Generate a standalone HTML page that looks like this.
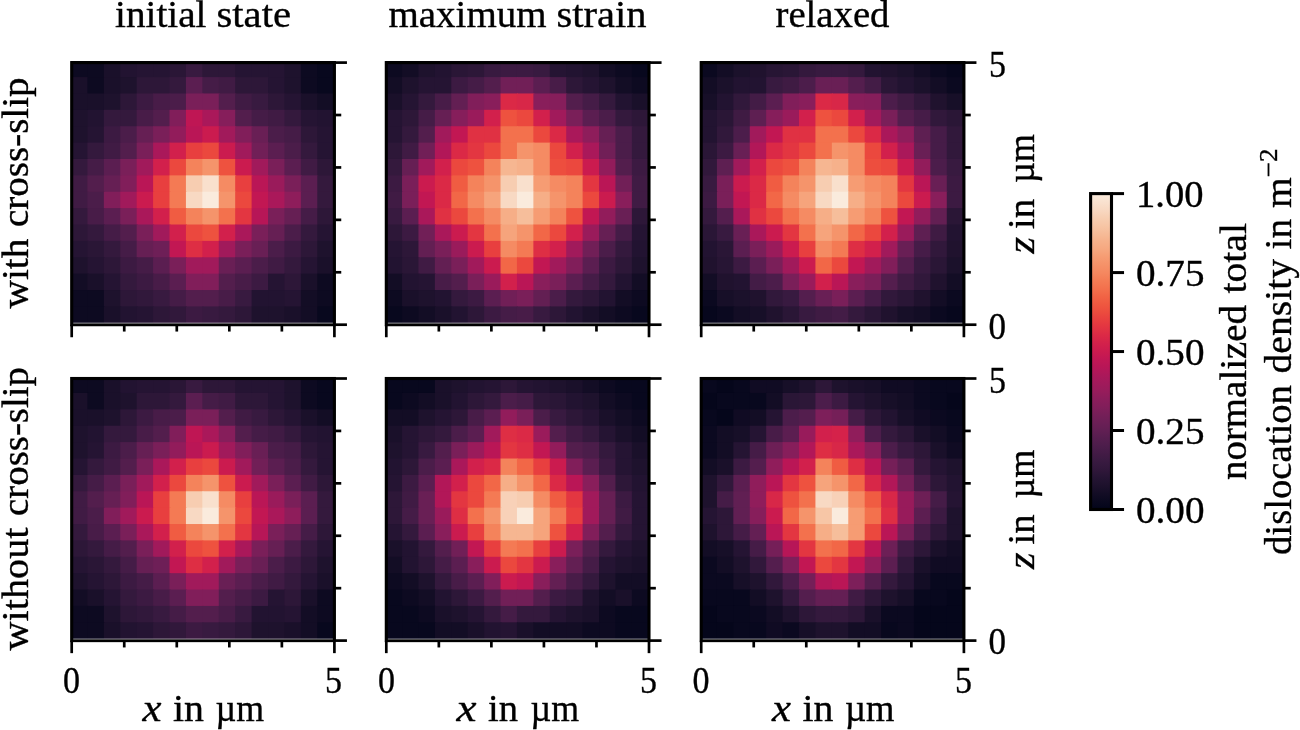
<!DOCTYPE html>
<html lang="en"><head><meta charset="utf-8"><title>Dislocation density maps</title>
<style>html,body{margin:0;padding:0;background:#fff}body{width:1300px;height:730px;overflow:hidden}svg{display:block}text{font-family:"Liberation Serif", "DejaVu Serif", serif;font-size:37.5px;fill:#000;stroke:#000;stroke-width:0.35px}.i{font-style:italic}</style></head><body>
<svg width="1300" height="730" viewBox="0 0 1300 730">
<rect width="1300" height="730" fill="#fff"/>
<clipPath id="cp0"><rect x="70.15" y="61.05" width="265.80" height="265.20"/></clipPath>
<g clip-path="url(#cp0)">
<rect x="71.00" y="60.70" width="17.42" height="17.38" fill="#0d0a21"/>
<rect x="87.42" y="60.70" width="17.42" height="17.38" fill="#0d0a21"/>
<rect x="103.84" y="60.70" width="17.42" height="17.38" fill="#1a102a"/>
<rect x="120.26" y="60.70" width="17.42" height="17.38" fill="#221331"/>
<rect x="136.68" y="60.70" width="17.42" height="17.38" fill="#251433"/>
<rect x="153.09" y="60.70" width="17.42" height="17.38" fill="#251433"/>
<rect x="169.51" y="60.70" width="17.42" height="17.38" fill="#2a1636"/>
<rect x="185.93" y="60.70" width="17.42" height="17.38" fill="#381a40"/>
<rect x="202.35" y="60.70" width="17.42" height="17.38" fill="#2d1738"/>
<rect x="218.77" y="60.70" width="17.42" height="17.38" fill="#2d1738"/>
<rect x="235.19" y="60.70" width="17.42" height="17.38" fill="#251433"/>
<rect x="251.61" y="60.70" width="17.42" height="17.38" fill="#251433"/>
<rect x="268.02" y="60.70" width="17.42" height="17.38" fill="#251433"/>
<rect x="284.44" y="60.70" width="17.42" height="17.38" fill="#1e122d"/>
<rect x="300.86" y="60.70" width="17.42" height="17.38" fill="#0d0a21"/>
<rect x="317.28" y="60.70" width="17.42" height="17.38" fill="#08081e"/>
<rect x="71.00" y="77.08" width="17.42" height="17.38" fill="#1a102a"/>
<rect x="87.42" y="77.08" width="17.42" height="17.38" fill="#0d0a21"/>
<rect x="103.84" y="77.08" width="17.42" height="17.38" fill="#1a102a"/>
<rect x="120.26" y="77.08" width="17.42" height="17.38" fill="#1e122d"/>
<rect x="136.68" y="77.08" width="17.42" height="17.38" fill="#2d1738"/>
<rect x="153.09" y="77.08" width="17.42" height="17.38" fill="#2d1738"/>
<rect x="169.51" y="77.08" width="17.42" height="17.38" fill="#34193d"/>
<rect x="185.93" y="77.08" width="17.42" height="17.38" fill="#5b1e51"/>
<rect x="202.35" y="77.08" width="17.42" height="17.38" fill="#451c47"/>
<rect x="218.77" y="77.08" width="17.42" height="17.38" fill="#401b44"/>
<rect x="235.19" y="77.08" width="17.42" height="17.38" fill="#2d1738"/>
<rect x="251.61" y="77.08" width="17.42" height="17.38" fill="#2d1738"/>
<rect x="268.02" y="77.08" width="17.42" height="17.38" fill="#251433"/>
<rect x="284.44" y="77.08" width="17.42" height="17.38" fill="#1e122d"/>
<rect x="300.86" y="77.08" width="17.42" height="17.38" fill="#0d0a21"/>
<rect x="317.28" y="77.08" width="17.42" height="17.38" fill="#08081e"/>
<rect x="71.00" y="93.46" width="17.42" height="17.38" fill="#1a102a"/>
<rect x="87.42" y="93.46" width="17.42" height="17.38" fill="#1a102a"/>
<rect x="103.84" y="93.46" width="17.42" height="17.38" fill="#1e122d"/>
<rect x="120.26" y="93.46" width="17.42" height="17.38" fill="#2d1738"/>
<rect x="136.68" y="93.46" width="17.42" height="17.38" fill="#3c1a42"/>
<rect x="153.09" y="93.46" width="17.42" height="17.38" fill="#481c48"/>
<rect x="169.51" y="93.46" width="17.42" height="17.38" fill="#4b1d4a"/>
<rect x="185.93" y="93.46" width="17.42" height="17.38" fill="#7a1f59"/>
<rect x="202.35" y="93.46" width="17.42" height="17.38" fill="#7a1f59"/>
<rect x="218.77" y="93.46" width="17.42" height="17.38" fill="#531e4d"/>
<rect x="235.19" y="93.46" width="17.42" height="17.38" fill="#401b44"/>
<rect x="251.61" y="93.46" width="17.42" height="17.38" fill="#381a40"/>
<rect x="268.02" y="93.46" width="17.42" height="17.38" fill="#2d1738"/>
<rect x="284.44" y="93.46" width="17.42" height="17.38" fill="#251433"/>
<rect x="300.86" y="93.46" width="17.42" height="17.38" fill="#1a102a"/>
<rect x="317.28" y="93.46" width="17.42" height="17.38" fill="#130d25"/>
<rect x="71.00" y="109.84" width="17.42" height="17.38" fill="#1e122d"/>
<rect x="87.42" y="109.84" width="17.42" height="17.38" fill="#221331"/>
<rect x="103.84" y="109.84" width="17.42" height="17.38" fill="#34193d"/>
<rect x="120.26" y="109.84" width="17.42" height="17.38" fill="#34193d"/>
<rect x="136.68" y="109.84" width="17.42" height="17.38" fill="#481c48"/>
<rect x="153.09" y="109.84" width="17.42" height="17.38" fill="#531e4d"/>
<rect x="169.51" y="109.84" width="17.42" height="17.38" fill="#811e5a"/>
<rect x="185.93" y="109.84" width="17.42" height="17.38" fill="#bf1654"/>
<rect x="202.35" y="109.84" width="17.42" height="17.38" fill="#aa185a"/>
<rect x="218.77" y="109.84" width="17.42" height="17.38" fill="#861e5b"/>
<rect x="235.19" y="109.84" width="17.42" height="17.38" fill="#531e4d"/>
<rect x="251.61" y="109.84" width="17.42" height="17.38" fill="#451c47"/>
<rect x="268.02" y="109.84" width="17.42" height="17.38" fill="#401b44"/>
<rect x="284.44" y="109.84" width="17.42" height="17.38" fill="#34193d"/>
<rect x="300.86" y="109.84" width="17.42" height="17.38" fill="#251433"/>
<rect x="317.28" y="109.84" width="17.42" height="17.38" fill="#221331"/>
<rect x="71.00" y="126.23" width="17.42" height="17.38" fill="#1e122d"/>
<rect x="87.42" y="126.23" width="17.42" height="17.38" fill="#251433"/>
<rect x="103.84" y="126.23" width="17.42" height="17.38" fill="#3c1a42"/>
<rect x="120.26" y="126.23" width="17.42" height="17.38" fill="#4b1d4a"/>
<rect x="136.68" y="126.23" width="17.42" height="17.38" fill="#661f54"/>
<rect x="153.09" y="126.23" width="17.42" height="17.38" fill="#7a1f59"/>
<rect x="169.51" y="126.23" width="17.42" height="17.38" fill="#921c5b"/>
<rect x="185.93" y="126.23" width="17.42" height="17.38" fill="#ba1656"/>
<rect x="202.35" y="126.23" width="17.42" height="17.38" fill="#cb1b4f"/>
<rect x="218.77" y="126.23" width="17.42" height="17.38" fill="#a11a5b"/>
<rect x="235.19" y="126.23" width="17.42" height="17.38" fill="#811e5a"/>
<rect x="251.61" y="126.23" width="17.42" height="17.38" fill="#691f55"/>
<rect x="268.02" y="126.23" width="17.42" height="17.38" fill="#4b1d4a"/>
<rect x="284.44" y="126.23" width="17.42" height="17.38" fill="#451c47"/>
<rect x="300.86" y="126.23" width="17.42" height="17.38" fill="#2d1738"/>
<rect x="317.28" y="126.23" width="17.42" height="17.38" fill="#251433"/>
<rect x="71.00" y="142.61" width="17.42" height="17.38" fill="#251433"/>
<rect x="87.42" y="142.61" width="17.42" height="17.38" fill="#34193d"/>
<rect x="103.84" y="142.61" width="17.42" height="17.38" fill="#401b44"/>
<rect x="120.26" y="142.61" width="17.42" height="17.38" fill="#531e4d"/>
<rect x="136.68" y="142.61" width="17.42" height="17.38" fill="#7a1f59"/>
<rect x="153.09" y="142.61" width="17.42" height="17.38" fill="#aa185a"/>
<rect x="169.51" y="142.61" width="17.42" height="17.38" fill="#d2204c"/>
<rect x="185.93" y="142.61" width="17.42" height="17.38" fill="#e83f3f"/>
<rect x="202.35" y="142.61" width="17.42" height="17.38" fill="#eb483e"/>
<rect x="218.77" y="142.61" width="17.42" height="17.38" fill="#cb1b4f"/>
<rect x="235.19" y="142.61" width="17.42" height="17.38" fill="#a11a5b"/>
<rect x="251.61" y="142.61" width="17.42" height="17.38" fill="#711f57"/>
<rect x="268.02" y="142.61" width="17.42" height="17.38" fill="#5b1e51"/>
<rect x="284.44" y="142.61" width="17.42" height="17.38" fill="#4b1d4a"/>
<rect x="300.86" y="142.61" width="17.42" height="17.38" fill="#34193d"/>
<rect x="317.28" y="142.61" width="17.42" height="17.38" fill="#251433"/>
<rect x="71.00" y="158.99" width="17.42" height="17.38" fill="#34193d"/>
<rect x="87.42" y="158.99" width="17.42" height="17.38" fill="#451c47"/>
<rect x="103.84" y="158.99" width="17.42" height="17.38" fill="#5b1e51"/>
<rect x="120.26" y="158.99" width="17.42" height="17.38" fill="#7a1f59"/>
<rect x="136.68" y="158.99" width="17.42" height="17.38" fill="#a11a5b"/>
<rect x="153.09" y="158.99" width="17.42" height="17.38" fill="#d2204c"/>
<rect x="169.51" y="158.99" width="17.42" height="17.38" fill="#eb483e"/>
<rect x="185.93" y="158.99" width="17.42" height="17.38" fill="#f4835b"/>
<rect x="202.35" y="158.99" width="17.42" height="17.38" fill="#f5946b"/>
<rect x="218.77" y="158.99" width="17.42" height="17.38" fill="#ee523f"/>
<rect x="235.19" y="158.99" width="17.42" height="17.38" fill="#cb1b4f"/>
<rect x="251.61" y="158.99" width="17.42" height="17.38" fill="#a11a5b"/>
<rect x="268.02" y="158.99" width="17.42" height="17.38" fill="#7a1f59"/>
<rect x="284.44" y="158.99" width="17.42" height="17.38" fill="#5b1e51"/>
<rect x="300.86" y="158.99" width="17.42" height="17.38" fill="#401b44"/>
<rect x="317.28" y="158.99" width="17.42" height="17.38" fill="#2d1738"/>
<rect x="71.00" y="175.37" width="17.42" height="17.38" fill="#401b44"/>
<rect x="87.42" y="175.37" width="17.42" height="17.38" fill="#531e4d"/>
<rect x="103.84" y="175.37" width="17.42" height="17.38" fill="#661f54"/>
<rect x="120.26" y="175.37" width="17.42" height="17.38" fill="#811e5a"/>
<rect x="136.68" y="175.37" width="17.42" height="17.38" fill="#ba1656"/>
<rect x="153.09" y="175.37" width="17.42" height="17.38" fill="#e83f3f"/>
<rect x="169.51" y="175.37" width="17.42" height="17.38" fill="#f47a54"/>
<rect x="185.93" y="175.37" width="17.42" height="17.38" fill="#f7cdb1"/>
<rect x="202.35" y="175.37" width="17.42" height="17.38" fill="#f9e0cd"/>
<rect x="218.77" y="175.37" width="17.42" height="17.38" fill="#f58b63"/>
<rect x="235.19" y="175.37" width="17.42" height="17.38" fill="#e83f3f"/>
<rect x="251.61" y="175.37" width="17.42" height="17.38" fill="#ba1656"/>
<rect x="268.02" y="175.37" width="17.42" height="17.38" fill="#9a1b5b"/>
<rect x="284.44" y="175.37" width="17.42" height="17.38" fill="#7a1f59"/>
<rect x="300.86" y="175.37" width="17.42" height="17.38" fill="#5b1e51"/>
<rect x="317.28" y="175.37" width="17.42" height="17.38" fill="#34193d"/>
<rect x="71.00" y="191.75" width="17.42" height="17.38" fill="#401b44"/>
<rect x="87.42" y="191.75" width="17.42" height="17.38" fill="#4b1d4a"/>
<rect x="103.84" y="191.75" width="17.42" height="17.38" fill="#811e5a"/>
<rect x="120.26" y="191.75" width="17.42" height="17.38" fill="#a11a5b"/>
<rect x="136.68" y="191.75" width="17.42" height="17.38" fill="#cb1b4f"/>
<rect x="153.09" y="191.75" width="17.42" height="17.38" fill="#e83f3f"/>
<rect x="169.51" y="191.75" width="17.42" height="17.38" fill="#f47a54"/>
<rect x="185.93" y="191.75" width="17.42" height="17.38" fill="#f8d9c3"/>
<rect x="202.35" y="191.75" width="17.42" height="17.38" fill="#faebdd"/>
<rect x="218.77" y="191.75" width="17.42" height="17.38" fill="#f5946b"/>
<rect x="235.19" y="191.75" width="17.42" height="17.38" fill="#eb483e"/>
<rect x="251.61" y="191.75" width="17.42" height="17.38" fill="#c21753"/>
<rect x="268.02" y="191.75" width="17.42" height="17.38" fill="#aa185a"/>
<rect x="284.44" y="191.75" width="17.42" height="17.38" fill="#8e1d5b"/>
<rect x="300.86" y="191.75" width="17.42" height="17.38" fill="#5b1e51"/>
<rect x="317.28" y="191.75" width="17.42" height="17.38" fill="#34193d"/>
<rect x="71.00" y="208.13" width="17.42" height="17.38" fill="#34193d"/>
<rect x="87.42" y="208.13" width="17.42" height="17.38" fill="#481c48"/>
<rect x="103.84" y="208.13" width="17.42" height="17.38" fill="#5b1e51"/>
<rect x="120.26" y="208.13" width="17.42" height="17.38" fill="#7a1f59"/>
<rect x="136.68" y="208.13" width="17.42" height="17.38" fill="#aa185a"/>
<rect x="153.09" y="208.13" width="17.42" height="17.38" fill="#d2204c"/>
<rect x="169.51" y="208.13" width="17.42" height="17.38" fill="#f05c42"/>
<rect x="185.93" y="208.13" width="17.42" height="17.38" fill="#f4835b"/>
<rect x="202.35" y="208.13" width="17.42" height="17.38" fill="#f5946b"/>
<rect x="218.77" y="208.13" width="17.42" height="17.38" fill="#f3714d"/>
<rect x="235.19" y="208.13" width="17.42" height="17.38" fill="#e33641"/>
<rect x="251.61" y="208.13" width="17.42" height="17.38" fill="#b71657"/>
<rect x="268.02" y="208.13" width="17.42" height="17.38" fill="#7a1f59"/>
<rect x="284.44" y="208.13" width="17.42" height="17.38" fill="#661f54"/>
<rect x="300.86" y="208.13" width="17.42" height="17.38" fill="#451c47"/>
<rect x="317.28" y="208.13" width="17.42" height="17.38" fill="#2d1738"/>
<rect x="71.00" y="224.51" width="17.42" height="17.38" fill="#2d1738"/>
<rect x="87.42" y="224.51" width="17.42" height="17.38" fill="#34193d"/>
<rect x="103.84" y="224.51" width="17.42" height="17.38" fill="#451c47"/>
<rect x="120.26" y="224.51" width="17.42" height="17.38" fill="#531e4d"/>
<rect x="136.68" y="224.51" width="17.42" height="17.38" fill="#7a1f59"/>
<rect x="153.09" y="224.51" width="17.42" height="17.38" fill="#a11a5b"/>
<rect x="169.51" y="224.51" width="17.42" height="17.38" fill="#d2204c"/>
<rect x="185.93" y="224.51" width="17.42" height="17.38" fill="#eb483e"/>
<rect x="202.35" y="224.51" width="17.42" height="17.38" fill="#ee523f"/>
<rect x="218.77" y="224.51" width="17.42" height="17.38" fill="#d2204c"/>
<rect x="235.19" y="224.51" width="17.42" height="17.38" fill="#aa185a"/>
<rect x="251.61" y="224.51" width="17.42" height="17.38" fill="#7a1f59"/>
<rect x="268.02" y="224.51" width="17.42" height="17.38" fill="#661f54"/>
<rect x="284.44" y="224.51" width="17.42" height="17.38" fill="#4b1d4a"/>
<rect x="300.86" y="224.51" width="17.42" height="17.38" fill="#34193d"/>
<rect x="317.28" y="224.51" width="17.42" height="17.38" fill="#251433"/>
<rect x="71.00" y="240.89" width="17.42" height="17.38" fill="#251433"/>
<rect x="87.42" y="240.89" width="17.42" height="17.38" fill="#2a1636"/>
<rect x="103.84" y="240.89" width="17.42" height="17.38" fill="#34193d"/>
<rect x="120.26" y="240.89" width="17.42" height="17.38" fill="#451c47"/>
<rect x="136.68" y="240.89" width="17.42" height="17.38" fill="#661f54"/>
<rect x="153.09" y="240.89" width="17.42" height="17.38" fill="#6e1f57"/>
<rect x="169.51" y="240.89" width="17.42" height="17.38" fill="#c21753"/>
<rect x="185.93" y="240.89" width="17.42" height="17.38" fill="#de2e44"/>
<rect x="202.35" y="240.89" width="17.42" height="17.38" fill="#d2204c"/>
<rect x="218.77" y="240.89" width="17.42" height="17.38" fill="#a11a5b"/>
<rect x="235.19" y="240.89" width="17.42" height="17.38" fill="#7a1f59"/>
<rect x="251.61" y="240.89" width="17.42" height="17.38" fill="#691f55"/>
<rect x="268.02" y="240.89" width="17.42" height="17.38" fill="#4b1d4a"/>
<rect x="284.44" y="240.89" width="17.42" height="17.38" fill="#3c1a42"/>
<rect x="300.86" y="240.89" width="17.42" height="17.38" fill="#2d1738"/>
<rect x="317.28" y="240.89" width="17.42" height="17.38" fill="#1e122d"/>
<rect x="71.00" y="257.28" width="17.42" height="17.38" fill="#1e122d"/>
<rect x="87.42" y="257.28" width="17.42" height="17.38" fill="#251433"/>
<rect x="103.84" y="257.28" width="17.42" height="17.38" fill="#2d1738"/>
<rect x="120.26" y="257.28" width="17.42" height="17.38" fill="#3c1a42"/>
<rect x="136.68" y="257.28" width="17.42" height="17.38" fill="#451c47"/>
<rect x="153.09" y="257.28" width="17.42" height="17.38" fill="#5b1e51"/>
<rect x="169.51" y="257.28" width="17.42" height="17.38" fill="#7a1f59"/>
<rect x="185.93" y="257.28" width="17.42" height="17.38" fill="#a11a5b"/>
<rect x="202.35" y="257.28" width="17.42" height="17.38" fill="#a11a5b"/>
<rect x="218.77" y="257.28" width="17.42" height="17.38" fill="#691f55"/>
<rect x="235.19" y="257.28" width="17.42" height="17.38" fill="#5b1e51"/>
<rect x="251.61" y="257.28" width="17.42" height="17.38" fill="#4b1d4a"/>
<rect x="268.02" y="257.28" width="17.42" height="17.38" fill="#401b44"/>
<rect x="284.44" y="257.28" width="17.42" height="17.38" fill="#34193d"/>
<rect x="300.86" y="257.28" width="17.42" height="17.38" fill="#251433"/>
<rect x="317.28" y="257.28" width="17.42" height="17.38" fill="#1a102a"/>
<rect x="71.00" y="273.66" width="17.42" height="17.38" fill="#130d25"/>
<rect x="87.42" y="273.66" width="17.42" height="17.38" fill="#1a102a"/>
<rect x="103.84" y="273.66" width="17.42" height="17.38" fill="#251433"/>
<rect x="120.26" y="273.66" width="17.42" height="17.38" fill="#34193d"/>
<rect x="136.68" y="273.66" width="17.42" height="17.38" fill="#3c1a42"/>
<rect x="153.09" y="273.66" width="17.42" height="17.38" fill="#481c48"/>
<rect x="169.51" y="273.66" width="17.42" height="17.38" fill="#5b1e51"/>
<rect x="185.93" y="273.66" width="17.42" height="17.38" fill="#811e5a"/>
<rect x="202.35" y="273.66" width="17.42" height="17.38" fill="#811e5a"/>
<rect x="218.77" y="273.66" width="17.42" height="17.38" fill="#531e4d"/>
<rect x="235.19" y="273.66" width="17.42" height="17.38" fill="#481c48"/>
<rect x="251.61" y="273.66" width="17.42" height="17.38" fill="#3c1a42"/>
<rect x="268.02" y="273.66" width="17.42" height="17.38" fill="#251433"/>
<rect x="284.44" y="273.66" width="17.42" height="17.38" fill="#2d1738"/>
<rect x="300.86" y="273.66" width="17.42" height="17.38" fill="#1a102a"/>
<rect x="317.28" y="273.66" width="17.42" height="17.38" fill="#0d0a21"/>
<rect x="71.00" y="290.04" width="17.42" height="17.38" fill="#0d0a21"/>
<rect x="87.42" y="290.04" width="17.42" height="17.38" fill="#0d0a21"/>
<rect x="103.84" y="290.04" width="17.42" height="17.38" fill="#1e122d"/>
<rect x="120.26" y="290.04" width="17.42" height="17.38" fill="#2d1738"/>
<rect x="136.68" y="290.04" width="17.42" height="17.38" fill="#31183b"/>
<rect x="153.09" y="290.04" width="17.42" height="17.38" fill="#381a40"/>
<rect x="169.51" y="290.04" width="17.42" height="17.38" fill="#451c47"/>
<rect x="185.93" y="290.04" width="17.42" height="17.38" fill="#531e4d"/>
<rect x="202.35" y="290.04" width="17.42" height="17.38" fill="#531e4d"/>
<rect x="218.77" y="290.04" width="17.42" height="17.38" fill="#481c48"/>
<rect x="235.19" y="290.04" width="17.42" height="17.38" fill="#381a40"/>
<rect x="251.61" y="290.04" width="17.42" height="17.38" fill="#221331"/>
<rect x="268.02" y="290.04" width="17.42" height="17.38" fill="#221331"/>
<rect x="284.44" y="290.04" width="17.42" height="17.38" fill="#251433"/>
<rect x="300.86" y="290.04" width="17.42" height="17.38" fill="#130d25"/>
<rect x="317.28" y="290.04" width="17.42" height="17.38" fill="#0d0a21"/>
<rect x="71.00" y="306.42" width="17.42" height="17.38" fill="#0d0a21"/>
<rect x="87.42" y="306.42" width="17.42" height="17.38" fill="#0d0a21"/>
<rect x="103.84" y="306.42" width="17.42" height="17.38" fill="#1a102a"/>
<rect x="120.26" y="306.42" width="17.42" height="17.38" fill="#221331"/>
<rect x="136.68" y="306.42" width="17.42" height="17.38" fill="#251433"/>
<rect x="153.09" y="306.42" width="17.42" height="17.38" fill="#2d1738"/>
<rect x="169.51" y="306.42" width="17.42" height="17.38" fill="#31183b"/>
<rect x="185.93" y="306.42" width="17.42" height="17.38" fill="#3c1a42"/>
<rect x="202.35" y="306.42" width="17.42" height="17.38" fill="#381a40"/>
<rect x="218.77" y="306.42" width="17.42" height="17.38" fill="#34193d"/>
<rect x="235.19" y="306.42" width="17.42" height="17.38" fill="#2d1738"/>
<rect x="251.61" y="306.42" width="17.42" height="17.38" fill="#1e122d"/>
<rect x="268.02" y="306.42" width="17.42" height="17.38" fill="#1e122d"/>
<rect x="284.44" y="306.42" width="17.42" height="17.38" fill="#1a102a"/>
<rect x="300.86" y="306.42" width="17.42" height="17.38" fill="#130d25"/>
<rect x="317.28" y="306.42" width="17.42" height="17.38" fill="#08081e"/>
</g>
<g stroke="#000" stroke-width="2.70" fill="none"><line x1="71.70" y1="324.70" x2="71.70" y2="337.25"/><line x1="334.40" y1="324.70" x2="346.95" y2="324.70"/><line x1="124.24" y1="324.70" x2="124.24" y2="331.55"/><line x1="334.40" y1="272.28" x2="341.25" y2="272.28"/><line x1="176.78" y1="324.70" x2="176.78" y2="331.55"/><line x1="334.40" y1="219.86" x2="341.25" y2="219.86"/><line x1="229.32" y1="324.70" x2="229.32" y2="331.55"/><line x1="334.40" y1="167.44" x2="341.25" y2="167.44"/><line x1="281.86" y1="324.70" x2="281.86" y2="331.55"/><line x1="334.40" y1="115.02" x2="341.25" y2="115.02"/><line x1="334.40" y1="324.70" x2="334.40" y2="337.25"/><line x1="334.40" y1="62.60" x2="346.95" y2="62.60"/></g>
<rect x="71.70" y="62.60" width="262.70" height="262.10" fill="none" stroke="#000" stroke-width="3.10"/>
<rect x="73.25" y="322.45" width="259.60" height="1.4" fill="#fff" fill-opacity="0.40"/>
<clipPath id="cp1"><rect x="384.75" y="61.05" width="265.80" height="265.20"/></clipPath>
<g clip-path="url(#cp1)">
<rect x="385.60" y="60.70" width="17.42" height="17.38" fill="#0d0a21"/>
<rect x="402.02" y="60.70" width="17.42" height="17.38" fill="#130d25"/>
<rect x="418.44" y="60.70" width="17.42" height="17.38" fill="#1e122d"/>
<rect x="434.86" y="60.70" width="17.42" height="17.38" fill="#221331"/>
<rect x="451.28" y="60.70" width="17.42" height="17.38" fill="#2a1636"/>
<rect x="467.69" y="60.70" width="17.42" height="17.38" fill="#2d1738"/>
<rect x="484.11" y="60.70" width="17.42" height="17.38" fill="#381a40"/>
<rect x="500.53" y="60.70" width="17.42" height="17.38" fill="#3c1a42"/>
<rect x="516.95" y="60.70" width="17.42" height="17.38" fill="#3c1a42"/>
<rect x="533.37" y="60.70" width="17.42" height="17.38" fill="#381a40"/>
<rect x="549.79" y="60.70" width="17.42" height="17.38" fill="#251433"/>
<rect x="566.21" y="60.70" width="17.42" height="17.38" fill="#221331"/>
<rect x="582.62" y="60.70" width="17.42" height="17.38" fill="#1e122d"/>
<rect x="599.04" y="60.70" width="17.42" height="17.38" fill="#130d25"/>
<rect x="615.46" y="60.70" width="17.42" height="17.38" fill="#0d0a21"/>
<rect x="631.88" y="60.70" width="17.42" height="17.38" fill="#08081e"/>
<rect x="385.60" y="77.08" width="17.42" height="17.38" fill="#130d25"/>
<rect x="402.02" y="77.08" width="17.42" height="17.38" fill="#1e122d"/>
<rect x="418.44" y="77.08" width="17.42" height="17.38" fill="#251433"/>
<rect x="434.86" y="77.08" width="17.42" height="17.38" fill="#251433"/>
<rect x="451.28" y="77.08" width="17.42" height="17.38" fill="#3c1a42"/>
<rect x="467.69" y="77.08" width="17.42" height="17.38" fill="#451c47"/>
<rect x="484.11" y="77.08" width="17.42" height="17.38" fill="#531e4d"/>
<rect x="500.53" y="77.08" width="17.42" height="17.38" fill="#711f57"/>
<rect x="516.95" y="77.08" width="17.42" height="17.38" fill="#711f57"/>
<rect x="533.37" y="77.08" width="17.42" height="17.38" fill="#5b1e51"/>
<rect x="549.79" y="77.08" width="17.42" height="17.38" fill="#481c48"/>
<rect x="566.21" y="77.08" width="17.42" height="17.38" fill="#2d1738"/>
<rect x="582.62" y="77.08" width="17.42" height="17.38" fill="#251433"/>
<rect x="599.04" y="77.08" width="17.42" height="17.38" fill="#1e122d"/>
<rect x="615.46" y="77.08" width="17.42" height="17.38" fill="#130d25"/>
<rect x="631.88" y="77.08" width="17.42" height="17.38" fill="#0d0a21"/>
<rect x="385.60" y="93.46" width="17.42" height="17.38" fill="#1a102a"/>
<rect x="402.02" y="93.46" width="17.42" height="17.38" fill="#251433"/>
<rect x="418.44" y="93.46" width="17.42" height="17.38" fill="#34193d"/>
<rect x="434.86" y="93.46" width="17.42" height="17.38" fill="#481c48"/>
<rect x="451.28" y="93.46" width="17.42" height="17.38" fill="#631f53"/>
<rect x="467.69" y="93.46" width="17.42" height="17.38" fill="#811e5a"/>
<rect x="484.11" y="93.46" width="17.42" height="17.38" fill="#891e5b"/>
<rect x="500.53" y="93.46" width="17.42" height="17.38" fill="#db2946"/>
<rect x="516.95" y="93.46" width="17.42" height="17.38" fill="#d82748"/>
<rect x="533.37" y="93.46" width="17.42" height="17.38" fill="#891e5b"/>
<rect x="549.79" y="93.46" width="17.42" height="17.38" fill="#861e5b"/>
<rect x="566.21" y="93.46" width="17.42" height="17.38" fill="#531e4d"/>
<rect x="582.62" y="93.46" width="17.42" height="17.38" fill="#451c47"/>
<rect x="599.04" y="93.46" width="17.42" height="17.38" fill="#34193d"/>
<rect x="615.46" y="93.46" width="17.42" height="17.38" fill="#221331"/>
<rect x="631.88" y="93.46" width="17.42" height="17.38" fill="#1a102a"/>
<rect x="385.60" y="109.84" width="17.42" height="17.38" fill="#251433"/>
<rect x="402.02" y="109.84" width="17.42" height="17.38" fill="#2d1738"/>
<rect x="418.44" y="109.84" width="17.42" height="17.38" fill="#451c47"/>
<rect x="434.86" y="109.84" width="17.42" height="17.38" fill="#661f54"/>
<rect x="451.28" y="109.84" width="17.42" height="17.38" fill="#861e5b"/>
<rect x="467.69" y="109.84" width="17.42" height="17.38" fill="#9a1b5b"/>
<rect x="484.11" y="109.84" width="17.42" height="17.38" fill="#d2204c"/>
<rect x="500.53" y="109.84" width="17.42" height="17.38" fill="#ee523f"/>
<rect x="516.95" y="109.84" width="17.42" height="17.38" fill="#eb483e"/>
<rect x="533.37" y="109.84" width="17.42" height="17.38" fill="#d2204c"/>
<rect x="549.79" y="109.84" width="17.42" height="17.38" fill="#a11a5b"/>
<rect x="566.21" y="109.84" width="17.42" height="17.38" fill="#7a1f59"/>
<rect x="582.62" y="109.84" width="17.42" height="17.38" fill="#5b1e51"/>
<rect x="599.04" y="109.84" width="17.42" height="17.38" fill="#4b1d4a"/>
<rect x="615.46" y="109.84" width="17.42" height="17.38" fill="#34193d"/>
<rect x="631.88" y="109.84" width="17.42" height="17.38" fill="#2d1738"/>
<rect x="385.60" y="126.23" width="17.42" height="17.38" fill="#251433"/>
<rect x="402.02" y="126.23" width="17.42" height="17.38" fill="#34193d"/>
<rect x="418.44" y="126.23" width="17.42" height="17.38" fill="#531e4d"/>
<rect x="434.86" y="126.23" width="17.42" height="17.38" fill="#a11a5b"/>
<rect x="451.28" y="126.23" width="17.42" height="17.38" fill="#c21753"/>
<rect x="467.69" y="126.23" width="17.42" height="17.38" fill="#e03143"/>
<rect x="484.11" y="126.23" width="17.42" height="17.38" fill="#e03143"/>
<rect x="500.53" y="126.23" width="17.42" height="17.38" fill="#f3714d"/>
<rect x="516.95" y="126.23" width="17.42" height="17.38" fill="#f3714d"/>
<rect x="533.37" y="126.23" width="17.42" height="17.38" fill="#eb483e"/>
<rect x="549.79" y="126.23" width="17.42" height="17.38" fill="#db2946"/>
<rect x="566.21" y="126.23" width="17.42" height="17.38" fill="#aa185a"/>
<rect x="582.62" y="126.23" width="17.42" height="17.38" fill="#8e1d5b"/>
<rect x="599.04" y="126.23" width="17.42" height="17.38" fill="#661f54"/>
<rect x="615.46" y="126.23" width="17.42" height="17.38" fill="#4b1d4a"/>
<rect x="631.88" y="126.23" width="17.42" height="17.38" fill="#34193d"/>
<rect x="385.60" y="142.61" width="17.42" height="17.38" fill="#2d1738"/>
<rect x="402.02" y="142.61" width="17.42" height="17.38" fill="#401b44"/>
<rect x="418.44" y="142.61" width="17.42" height="17.38" fill="#711f57"/>
<rect x="434.86" y="142.61" width="17.42" height="17.38" fill="#b21758"/>
<rect x="451.28" y="142.61" width="17.42" height="17.38" fill="#db2946"/>
<rect x="467.69" y="142.61" width="17.42" height="17.38" fill="#e33641"/>
<rect x="484.11" y="142.61" width="17.42" height="17.38" fill="#eb483e"/>
<rect x="500.53" y="142.61" width="17.42" height="17.38" fill="#f3714d"/>
<rect x="516.95" y="142.61" width="17.42" height="17.38" fill="#f5946b"/>
<rect x="533.37" y="142.61" width="17.42" height="17.38" fill="#f58b63"/>
<rect x="549.79" y="142.61" width="17.42" height="17.38" fill="#eb483e"/>
<rect x="566.21" y="142.61" width="17.42" height="17.38" fill="#d2204c"/>
<rect x="582.62" y="142.61" width="17.42" height="17.38" fill="#aa185a"/>
<rect x="599.04" y="142.61" width="17.42" height="17.38" fill="#711f57"/>
<rect x="615.46" y="142.61" width="17.42" height="17.38" fill="#4b1d4a"/>
<rect x="631.88" y="142.61" width="17.42" height="17.38" fill="#34193d"/>
<rect x="385.60" y="158.99" width="17.42" height="17.38" fill="#34193d"/>
<rect x="402.02" y="158.99" width="17.42" height="17.38" fill="#661f54"/>
<rect x="418.44" y="158.99" width="17.42" height="17.38" fill="#a11a5b"/>
<rect x="434.86" y="158.99" width="17.42" height="17.38" fill="#d2204c"/>
<rect x="451.28" y="158.99" width="17.42" height="17.38" fill="#eb483e"/>
<rect x="467.69" y="158.99" width="17.42" height="17.38" fill="#ee523f"/>
<rect x="484.11" y="158.99" width="17.42" height="17.38" fill="#f4835b"/>
<rect x="500.53" y="158.99" width="17.42" height="17.38" fill="#f6b691"/>
<rect x="516.95" y="158.99" width="17.42" height="17.38" fill="#f6b18b"/>
<rect x="533.37" y="158.99" width="17.42" height="17.38" fill="#f58b63"/>
<rect x="549.79" y="158.99" width="17.42" height="17.38" fill="#ed4e3e"/>
<rect x="566.21" y="158.99" width="17.42" height="17.38" fill="#eb483e"/>
<rect x="582.62" y="158.99" width="17.42" height="17.38" fill="#cb1b4f"/>
<rect x="599.04" y="158.99" width="17.42" height="17.38" fill="#921c5b"/>
<rect x="615.46" y="158.99" width="17.42" height="17.38" fill="#531e4d"/>
<rect x="631.88" y="158.99" width="17.42" height="17.38" fill="#3c1a42"/>
<rect x="385.60" y="175.37" width="17.42" height="17.38" fill="#3c1a42"/>
<rect x="402.02" y="175.37" width="17.42" height="17.38" fill="#7a1f59"/>
<rect x="418.44" y="175.37" width="17.42" height="17.38" fill="#cb1b4f"/>
<rect x="434.86" y="175.37" width="17.42" height="17.38" fill="#db2946"/>
<rect x="451.28" y="175.37" width="17.42" height="17.38" fill="#f05c42"/>
<rect x="467.69" y="175.37" width="17.42" height="17.38" fill="#f4835b"/>
<rect x="484.11" y="175.37" width="17.42" height="17.38" fill="#f5946b"/>
<rect x="500.53" y="175.37" width="17.42" height="17.38" fill="#f7cdb1"/>
<rect x="516.95" y="175.37" width="17.42" height="17.38" fill="#f9e0cd"/>
<rect x="533.37" y="175.37" width="17.42" height="17.38" fill="#f69c73"/>
<rect x="549.79" y="175.37" width="17.42" height="17.38" fill="#f58b63"/>
<rect x="566.21" y="175.37" width="17.42" height="17.38" fill="#f4835b"/>
<rect x="582.62" y="175.37" width="17.42" height="17.38" fill="#e33641"/>
<rect x="599.04" y="175.37" width="17.42" height="17.38" fill="#ba1656"/>
<rect x="615.46" y="175.37" width="17.42" height="17.38" fill="#711f57"/>
<rect x="631.88" y="175.37" width="17.42" height="17.38" fill="#401b44"/>
<rect x="385.60" y="191.75" width="17.42" height="17.38" fill="#401b44"/>
<rect x="402.02" y="191.75" width="17.42" height="17.38" fill="#7a1f59"/>
<rect x="418.44" y="191.75" width="17.42" height="17.38" fill="#c21753"/>
<rect x="434.86" y="191.75" width="17.42" height="17.38" fill="#db2946"/>
<rect x="451.28" y="191.75" width="17.42" height="17.38" fill="#f26747"/>
<rect x="467.69" y="191.75" width="17.42" height="17.38" fill="#f58b63"/>
<rect x="484.11" y="191.75" width="17.42" height="17.38" fill="#f6a47c"/>
<rect x="500.53" y="191.75" width="17.42" height="17.38" fill="#f8d9c3"/>
<rect x="516.95" y="191.75" width="17.42" height="17.38" fill="#faebdd"/>
<rect x="533.37" y="191.75" width="17.42" height="17.38" fill="#f6ae87"/>
<rect x="549.79" y="191.75" width="17.42" height="17.38" fill="#f5946b"/>
<rect x="566.21" y="191.75" width="17.42" height="17.38" fill="#f4835b"/>
<rect x="582.62" y="191.75" width="17.42" height="17.38" fill="#eb483e"/>
<rect x="599.04" y="191.75" width="17.42" height="17.38" fill="#cb1b4f"/>
<rect x="615.46" y="191.75" width="17.42" height="17.38" fill="#891e5b"/>
<rect x="631.88" y="191.75" width="17.42" height="17.38" fill="#401b44"/>
<rect x="385.60" y="208.13" width="17.42" height="17.38" fill="#381a40"/>
<rect x="402.02" y="208.13" width="17.42" height="17.38" fill="#5b1e51"/>
<rect x="418.44" y="208.13" width="17.42" height="17.38" fill="#aa185a"/>
<rect x="434.86" y="208.13" width="17.42" height="17.38" fill="#e03143"/>
<rect x="451.28" y="208.13" width="17.42" height="17.38" fill="#eb483e"/>
<rect x="467.69" y="208.13" width="17.42" height="17.38" fill="#f3714d"/>
<rect x="484.11" y="208.13" width="17.42" height="17.38" fill="#f58b63"/>
<rect x="500.53" y="208.13" width="17.42" height="17.38" fill="#f6ae87"/>
<rect x="516.95" y="208.13" width="17.42" height="17.38" fill="#f6be9b"/>
<rect x="533.37" y="208.13" width="17.42" height="17.38" fill="#f69c73"/>
<rect x="549.79" y="208.13" width="17.42" height="17.38" fill="#f4835b"/>
<rect x="566.21" y="208.13" width="17.42" height="17.38" fill="#ee523f"/>
<rect x="582.62" y="208.13" width="17.42" height="17.38" fill="#c21753"/>
<rect x="599.04" y="208.13" width="17.42" height="17.38" fill="#921c5b"/>
<rect x="615.46" y="208.13" width="17.42" height="17.38" fill="#691f55"/>
<rect x="631.88" y="208.13" width="17.42" height="17.38" fill="#2d1738"/>
<rect x="385.60" y="224.51" width="17.42" height="17.38" fill="#2d1738"/>
<rect x="402.02" y="224.51" width="17.42" height="17.38" fill="#3c1a42"/>
<rect x="418.44" y="224.51" width="17.42" height="17.38" fill="#711f57"/>
<rect x="434.86" y="224.51" width="17.42" height="17.38" fill="#aa185a"/>
<rect x="451.28" y="224.51" width="17.42" height="17.38" fill="#cb1b4f"/>
<rect x="467.69" y="224.51" width="17.42" height="17.38" fill="#e33641"/>
<rect x="484.11" y="224.51" width="17.42" height="17.38" fill="#f3714d"/>
<rect x="500.53" y="224.51" width="17.42" height="17.38" fill="#f6a47c"/>
<rect x="516.95" y="224.51" width="17.42" height="17.38" fill="#f5946b"/>
<rect x="533.37" y="224.51" width="17.42" height="17.38" fill="#f26747"/>
<rect x="549.79" y="224.51" width="17.42" height="17.38" fill="#eb483e"/>
<rect x="566.21" y="224.51" width="17.42" height="17.38" fill="#d2204c"/>
<rect x="582.62" y="224.51" width="17.42" height="17.38" fill="#9a1b5b"/>
<rect x="599.04" y="224.51" width="17.42" height="17.38" fill="#661f54"/>
<rect x="615.46" y="224.51" width="17.42" height="17.38" fill="#451c47"/>
<rect x="631.88" y="224.51" width="17.42" height="17.38" fill="#251433"/>
<rect x="385.60" y="240.89" width="17.42" height="17.38" fill="#251433"/>
<rect x="402.02" y="240.89" width="17.42" height="17.38" fill="#2d1738"/>
<rect x="418.44" y="240.89" width="17.42" height="17.38" fill="#631f53"/>
<rect x="434.86" y="240.89" width="17.42" height="17.38" fill="#7a1f59"/>
<rect x="451.28" y="240.89" width="17.42" height="17.38" fill="#9a1b5b"/>
<rect x="467.69" y="240.89" width="17.42" height="17.38" fill="#cb1b4f"/>
<rect x="484.11" y="240.89" width="17.42" height="17.38" fill="#e83f3f"/>
<rect x="500.53" y="240.89" width="17.42" height="17.38" fill="#f58b63"/>
<rect x="516.95" y="240.89" width="17.42" height="17.38" fill="#f47a54"/>
<rect x="533.37" y="240.89" width="17.42" height="17.38" fill="#de2e44"/>
<rect x="549.79" y="240.89" width="17.42" height="17.38" fill="#d2204c"/>
<rect x="566.21" y="240.89" width="17.42" height="17.38" fill="#a11a5b"/>
<rect x="582.62" y="240.89" width="17.42" height="17.38" fill="#711f57"/>
<rect x="599.04" y="240.89" width="17.42" height="17.38" fill="#4b1d4a"/>
<rect x="615.46" y="240.89" width="17.42" height="17.38" fill="#34193d"/>
<rect x="631.88" y="240.89" width="17.42" height="17.38" fill="#221331"/>
<rect x="385.60" y="257.28" width="17.42" height="17.38" fill="#221331"/>
<rect x="402.02" y="257.28" width="17.42" height="17.38" fill="#2a1636"/>
<rect x="418.44" y="257.28" width="17.42" height="17.38" fill="#401b44"/>
<rect x="434.86" y="257.28" width="17.42" height="17.38" fill="#631f53"/>
<rect x="451.28" y="257.28" width="17.42" height="17.38" fill="#7a1f59"/>
<rect x="467.69" y="257.28" width="17.42" height="17.38" fill="#a11a5b"/>
<rect x="484.11" y="257.28" width="17.42" height="17.38" fill="#cb1b4f"/>
<rect x="500.53" y="257.28" width="17.42" height="17.38" fill="#f26747"/>
<rect x="516.95" y="257.28" width="17.42" height="17.38" fill="#eb483e"/>
<rect x="533.37" y="257.28" width="17.42" height="17.38" fill="#c21753"/>
<rect x="549.79" y="257.28" width="17.42" height="17.38" fill="#a11a5b"/>
<rect x="566.21" y="257.28" width="17.42" height="17.38" fill="#811e5a"/>
<rect x="582.62" y="257.28" width="17.42" height="17.38" fill="#5b1e51"/>
<rect x="599.04" y="257.28" width="17.42" height="17.38" fill="#3c1a42"/>
<rect x="615.46" y="257.28" width="17.42" height="17.38" fill="#2d1738"/>
<rect x="631.88" y="257.28" width="17.42" height="17.38" fill="#1e122d"/>
<rect x="385.60" y="273.66" width="17.42" height="17.38" fill="#130d25"/>
<rect x="402.02" y="273.66" width="17.42" height="17.38" fill="#221331"/>
<rect x="418.44" y="273.66" width="17.42" height="17.38" fill="#251433"/>
<rect x="434.86" y="273.66" width="17.42" height="17.38" fill="#481c48"/>
<rect x="451.28" y="273.66" width="17.42" height="17.38" fill="#531e4d"/>
<rect x="467.69" y="273.66" width="17.42" height="17.38" fill="#7a1f59"/>
<rect x="484.11" y="273.66" width="17.42" height="17.38" fill="#9a1b5b"/>
<rect x="500.53" y="273.66" width="17.42" height="17.38" fill="#d2204c"/>
<rect x="516.95" y="273.66" width="17.42" height="17.38" fill="#ba1656"/>
<rect x="533.37" y="273.66" width="17.42" height="17.38" fill="#891e5b"/>
<rect x="549.79" y="273.66" width="17.42" height="17.38" fill="#7a1f59"/>
<rect x="566.21" y="273.66" width="17.42" height="17.38" fill="#5b1e51"/>
<rect x="582.62" y="273.66" width="17.42" height="17.38" fill="#451c47"/>
<rect x="599.04" y="273.66" width="17.42" height="17.38" fill="#34193d"/>
<rect x="615.46" y="273.66" width="17.42" height="17.38" fill="#221331"/>
<rect x="631.88" y="273.66" width="17.42" height="17.38" fill="#130d25"/>
<rect x="385.60" y="290.04" width="17.42" height="17.38" fill="#0d0a21"/>
<rect x="402.02" y="290.04" width="17.42" height="17.38" fill="#1a102a"/>
<rect x="418.44" y="290.04" width="17.42" height="17.38" fill="#1e122d"/>
<rect x="434.86" y="290.04" width="17.42" height="17.38" fill="#221331"/>
<rect x="451.28" y="290.04" width="17.42" height="17.38" fill="#34193d"/>
<rect x="467.69" y="290.04" width="17.42" height="17.38" fill="#3c1a42"/>
<rect x="484.11" y="290.04" width="17.42" height="17.38" fill="#5b1e51"/>
<rect x="500.53" y="290.04" width="17.42" height="17.38" fill="#711f57"/>
<rect x="516.95" y="290.04" width="17.42" height="17.38" fill="#7a1f59"/>
<rect x="533.37" y="290.04" width="17.42" height="17.38" fill="#631f53"/>
<rect x="549.79" y="290.04" width="17.42" height="17.38" fill="#4b1d4a"/>
<rect x="566.21" y="290.04" width="17.42" height="17.38" fill="#34193d"/>
<rect x="582.62" y="290.04" width="17.42" height="17.38" fill="#2d1738"/>
<rect x="599.04" y="290.04" width="17.42" height="17.38" fill="#221331"/>
<rect x="615.46" y="290.04" width="17.42" height="17.38" fill="#130d25"/>
<rect x="631.88" y="290.04" width="17.42" height="17.38" fill="#0d0a21"/>
<rect x="385.60" y="306.42" width="17.42" height="17.38" fill="#08081e"/>
<rect x="402.02" y="306.42" width="17.42" height="17.38" fill="#0d0a21"/>
<rect x="418.44" y="306.42" width="17.42" height="17.38" fill="#130d25"/>
<rect x="434.86" y="306.42" width="17.42" height="17.38" fill="#1a102a"/>
<rect x="451.28" y="306.42" width="17.42" height="17.38" fill="#221331"/>
<rect x="467.69" y="306.42" width="17.42" height="17.38" fill="#2d1738"/>
<rect x="484.11" y="306.42" width="17.42" height="17.38" fill="#3c1a42"/>
<rect x="500.53" y="306.42" width="17.42" height="17.38" fill="#451c47"/>
<rect x="516.95" y="306.42" width="17.42" height="17.38" fill="#481c48"/>
<rect x="533.37" y="306.42" width="17.42" height="17.38" fill="#381a40"/>
<rect x="549.79" y="306.42" width="17.42" height="17.38" fill="#2d1738"/>
<rect x="566.21" y="306.42" width="17.42" height="17.38" fill="#221331"/>
<rect x="582.62" y="306.42" width="17.42" height="17.38" fill="#1a102a"/>
<rect x="599.04" y="306.42" width="17.42" height="17.38" fill="#130d25"/>
<rect x="615.46" y="306.42" width="17.42" height="17.38" fill="#0d0a21"/>
<rect x="631.88" y="306.42" width="17.42" height="17.38" fill="#08081e"/>
</g>
<g stroke="#000" stroke-width="2.70" fill="none"><line x1="386.30" y1="324.70" x2="386.30" y2="337.25"/><line x1="649.00" y1="324.70" x2="661.55" y2="324.70"/><line x1="438.84" y1="324.70" x2="438.84" y2="331.55"/><line x1="649.00" y1="272.28" x2="655.85" y2="272.28"/><line x1="491.38" y1="324.70" x2="491.38" y2="331.55"/><line x1="649.00" y1="219.86" x2="655.85" y2="219.86"/><line x1="543.92" y1="324.70" x2="543.92" y2="331.55"/><line x1="649.00" y1="167.44" x2="655.85" y2="167.44"/><line x1="596.46" y1="324.70" x2="596.46" y2="331.55"/><line x1="649.00" y1="115.02" x2="655.85" y2="115.02"/><line x1="649.00" y1="324.70" x2="649.00" y2="337.25"/><line x1="649.00" y1="62.60" x2="661.55" y2="62.60"/></g>
<rect x="386.30" y="62.60" width="262.70" height="262.10" fill="none" stroke="#000" stroke-width="3.10"/>
<rect x="387.85" y="322.45" width="259.60" height="1.4" fill="#fff" fill-opacity="0.40"/>
<clipPath id="cp2"><rect x="699.65" y="61.05" width="265.80" height="265.20"/></clipPath>
<g clip-path="url(#cp2)">
<rect x="700.50" y="60.70" width="17.42" height="17.38" fill="#0b0920"/>
<rect x="716.92" y="60.70" width="17.42" height="17.38" fill="#130d25"/>
<rect x="733.34" y="60.70" width="17.42" height="17.38" fill="#1b112b"/>
<rect x="749.76" y="60.70" width="17.42" height="17.38" fill="#20122e"/>
<rect x="766.17" y="60.70" width="17.42" height="17.38" fill="#271534"/>
<rect x="782.59" y="60.70" width="17.42" height="17.38" fill="#2a1636"/>
<rect x="799.01" y="60.70" width="17.42" height="17.38" fill="#34193d"/>
<rect x="815.43" y="60.70" width="17.42" height="17.38" fill="#381a40"/>
<rect x="831.85" y="60.70" width="17.42" height="17.38" fill="#381a40"/>
<rect x="848.27" y="60.70" width="17.42" height="17.38" fill="#34193d"/>
<rect x="864.69" y="60.70" width="17.42" height="17.38" fill="#221331"/>
<rect x="881.11" y="60.70" width="17.42" height="17.38" fill="#20122e"/>
<rect x="897.52" y="60.70" width="17.42" height="17.38" fill="#1b112b"/>
<rect x="913.94" y="60.70" width="17.42" height="17.38" fill="#130d25"/>
<rect x="930.36" y="60.70" width="17.42" height="17.38" fill="#0b0920"/>
<rect x="946.78" y="60.70" width="17.42" height="17.38" fill="#07071d"/>
<rect x="700.50" y="77.08" width="17.42" height="17.38" fill="#130d25"/>
<rect x="716.92" y="77.08" width="17.42" height="17.38" fill="#1b112b"/>
<rect x="733.34" y="77.08" width="17.42" height="17.38" fill="#221331"/>
<rect x="749.76" y="77.08" width="17.42" height="17.38" fill="#221331"/>
<rect x="766.17" y="77.08" width="17.42" height="17.38" fill="#381a40"/>
<rect x="782.59" y="77.08" width="17.42" height="17.38" fill="#3f1b43"/>
<rect x="799.01" y="77.08" width="17.42" height="17.38" fill="#4c1d4b"/>
<rect x="815.43" y="77.08" width="17.42" height="17.38" fill="#691f55"/>
<rect x="831.85" y="77.08" width="17.42" height="17.38" fill="#691f55"/>
<rect x="848.27" y="77.08" width="17.42" height="17.38" fill="#541e4e"/>
<rect x="864.69" y="77.08" width="17.42" height="17.38" fill="#431c46"/>
<rect x="881.11" y="77.08" width="17.42" height="17.38" fill="#2a1636"/>
<rect x="897.52" y="77.08" width="17.42" height="17.38" fill="#221331"/>
<rect x="913.94" y="77.08" width="17.42" height="17.38" fill="#1b112b"/>
<rect x="930.36" y="77.08" width="17.42" height="17.38" fill="#130d25"/>
<rect x="946.78" y="77.08" width="17.42" height="17.38" fill="#0b0920"/>
<rect x="700.50" y="93.46" width="17.42" height="17.38" fill="#170f28"/>
<rect x="716.92" y="93.46" width="17.42" height="17.38" fill="#221331"/>
<rect x="733.34" y="93.46" width="17.42" height="17.38" fill="#31183b"/>
<rect x="749.76" y="93.46" width="17.42" height="17.38" fill="#431c46"/>
<rect x="766.17" y="93.46" width="17.42" height="17.38" fill="#5b1e51"/>
<rect x="782.59" y="93.46" width="17.42" height="17.38" fill="#811e5a"/>
<rect x="799.01" y="93.46" width="17.42" height="17.38" fill="#891e5b"/>
<rect x="815.43" y="93.46" width="17.42" height="17.38" fill="#db2946"/>
<rect x="831.85" y="93.46" width="17.42" height="17.38" fill="#d82748"/>
<rect x="848.27" y="93.46" width="17.42" height="17.38" fill="#891e5b"/>
<rect x="864.69" y="93.46" width="17.42" height="17.38" fill="#861e5b"/>
<rect x="881.11" y="93.46" width="17.42" height="17.38" fill="#4c1d4b"/>
<rect x="897.52" y="93.46" width="17.42" height="17.38" fill="#3f1b43"/>
<rect x="913.94" y="93.46" width="17.42" height="17.38" fill="#31183b"/>
<rect x="930.36" y="93.46" width="17.42" height="17.38" fill="#20122e"/>
<rect x="946.78" y="93.46" width="17.42" height="17.38" fill="#170f28"/>
<rect x="700.50" y="109.84" width="17.42" height="17.38" fill="#221331"/>
<rect x="716.92" y="109.84" width="17.42" height="17.38" fill="#2a1636"/>
<rect x="733.34" y="109.84" width="17.42" height="17.38" fill="#3f1b43"/>
<rect x="749.76" y="109.84" width="17.42" height="17.38" fill="#5e1f52"/>
<rect x="766.17" y="109.84" width="17.42" height="17.38" fill="#861e5b"/>
<rect x="782.59" y="109.84" width="17.42" height="17.38" fill="#9a1b5b"/>
<rect x="799.01" y="109.84" width="17.42" height="17.38" fill="#d2204c"/>
<rect x="815.43" y="109.84" width="17.42" height="17.38" fill="#ee523f"/>
<rect x="831.85" y="109.84" width="17.42" height="17.38" fill="#eb483e"/>
<rect x="848.27" y="109.84" width="17.42" height="17.38" fill="#d2204c"/>
<rect x="864.69" y="109.84" width="17.42" height="17.38" fill="#a11a5b"/>
<rect x="881.11" y="109.84" width="17.42" height="17.38" fill="#7a1f59"/>
<rect x="897.52" y="109.84" width="17.42" height="17.38" fill="#541e4e"/>
<rect x="913.94" y="109.84" width="17.42" height="17.38" fill="#461c48"/>
<rect x="930.36" y="109.84" width="17.42" height="17.38" fill="#31183b"/>
<rect x="946.78" y="109.84" width="17.42" height="17.38" fill="#2a1636"/>
<rect x="700.50" y="126.23" width="17.42" height="17.38" fill="#221331"/>
<rect x="716.92" y="126.23" width="17.42" height="17.38" fill="#31183b"/>
<rect x="733.34" y="126.23" width="17.42" height="17.38" fill="#4c1d4b"/>
<rect x="749.76" y="126.23" width="17.42" height="17.38" fill="#a11a5b"/>
<rect x="766.17" y="126.23" width="17.42" height="17.38" fill="#c21753"/>
<rect x="782.59" y="126.23" width="17.42" height="17.38" fill="#e03143"/>
<rect x="799.01" y="126.23" width="17.42" height="17.38" fill="#e03143"/>
<rect x="815.43" y="126.23" width="17.42" height="17.38" fill="#f3714d"/>
<rect x="831.85" y="126.23" width="17.42" height="17.38" fill="#f3714d"/>
<rect x="848.27" y="126.23" width="17.42" height="17.38" fill="#eb483e"/>
<rect x="864.69" y="126.23" width="17.42" height="17.38" fill="#db2946"/>
<rect x="881.11" y="126.23" width="17.42" height="17.38" fill="#aa185a"/>
<rect x="897.52" y="126.23" width="17.42" height="17.38" fill="#8e1d5b"/>
<rect x="913.94" y="126.23" width="17.42" height="17.38" fill="#5e1f52"/>
<rect x="930.36" y="126.23" width="17.42" height="17.38" fill="#461c48"/>
<rect x="946.78" y="126.23" width="17.42" height="17.38" fill="#31183b"/>
<rect x="700.50" y="142.61" width="17.42" height="17.38" fill="#2a1636"/>
<rect x="716.92" y="142.61" width="17.42" height="17.38" fill="#3c1a42"/>
<rect x="733.34" y="142.61" width="17.42" height="17.38" fill="#691f55"/>
<rect x="749.76" y="142.61" width="17.42" height="17.38" fill="#b21758"/>
<rect x="766.17" y="142.61" width="17.42" height="17.38" fill="#db2946"/>
<rect x="782.59" y="142.61" width="17.42" height="17.38" fill="#e33641"/>
<rect x="799.01" y="142.61" width="17.42" height="17.38" fill="#eb483e"/>
<rect x="815.43" y="142.61" width="17.42" height="17.38" fill="#f3714d"/>
<rect x="831.85" y="142.61" width="17.42" height="17.38" fill="#f5946b"/>
<rect x="848.27" y="142.61" width="17.42" height="17.38" fill="#f58b63"/>
<rect x="864.69" y="142.61" width="17.42" height="17.38" fill="#eb483e"/>
<rect x="881.11" y="142.61" width="17.42" height="17.38" fill="#d2204c"/>
<rect x="897.52" y="142.61" width="17.42" height="17.38" fill="#aa185a"/>
<rect x="913.94" y="142.61" width="17.42" height="17.38" fill="#691f55"/>
<rect x="930.36" y="142.61" width="17.42" height="17.38" fill="#461c48"/>
<rect x="946.78" y="142.61" width="17.42" height="17.38" fill="#31183b"/>
<rect x="700.50" y="158.99" width="17.42" height="17.38" fill="#31183b"/>
<rect x="716.92" y="158.99" width="17.42" height="17.38" fill="#5e1f52"/>
<rect x="733.34" y="158.99" width="17.42" height="17.38" fill="#a11a5b"/>
<rect x="749.76" y="158.99" width="17.42" height="17.38" fill="#d2204c"/>
<rect x="766.17" y="158.99" width="17.42" height="17.38" fill="#eb483e"/>
<rect x="782.59" y="158.99" width="17.42" height="17.38" fill="#ee523f"/>
<rect x="799.01" y="158.99" width="17.42" height="17.38" fill="#f4835b"/>
<rect x="815.43" y="158.99" width="17.42" height="17.38" fill="#f6b691"/>
<rect x="831.85" y="158.99" width="17.42" height="17.38" fill="#f6b18b"/>
<rect x="848.27" y="158.99" width="17.42" height="17.38" fill="#f58b63"/>
<rect x="864.69" y="158.99" width="17.42" height="17.38" fill="#ed4e3e"/>
<rect x="881.11" y="158.99" width="17.42" height="17.38" fill="#eb483e"/>
<rect x="897.52" y="158.99" width="17.42" height="17.38" fill="#cb1b4f"/>
<rect x="913.94" y="158.99" width="17.42" height="17.38" fill="#921c5b"/>
<rect x="930.36" y="158.99" width="17.42" height="17.38" fill="#4c1d4b"/>
<rect x="946.78" y="158.99" width="17.42" height="17.38" fill="#381a40"/>
<rect x="700.50" y="175.37" width="17.42" height="17.38" fill="#381a40"/>
<rect x="716.92" y="175.37" width="17.42" height="17.38" fill="#7a1f59"/>
<rect x="733.34" y="175.37" width="17.42" height="17.38" fill="#cb1b4f"/>
<rect x="749.76" y="175.37" width="17.42" height="17.38" fill="#db2946"/>
<rect x="766.17" y="175.37" width="17.42" height="17.38" fill="#f05c42"/>
<rect x="782.59" y="175.37" width="17.42" height="17.38" fill="#f4835b"/>
<rect x="799.01" y="175.37" width="17.42" height="17.38" fill="#f5946b"/>
<rect x="815.43" y="175.37" width="17.42" height="17.38" fill="#f7cdb1"/>
<rect x="831.85" y="175.37" width="17.42" height="17.38" fill="#f9e0cd"/>
<rect x="848.27" y="175.37" width="17.42" height="17.38" fill="#f69c73"/>
<rect x="864.69" y="175.37" width="17.42" height="17.38" fill="#f58b63"/>
<rect x="881.11" y="175.37" width="17.42" height="17.38" fill="#f4835b"/>
<rect x="897.52" y="175.37" width="17.42" height="17.38" fill="#e33641"/>
<rect x="913.94" y="175.37" width="17.42" height="17.38" fill="#ba1656"/>
<rect x="930.36" y="175.37" width="17.42" height="17.38" fill="#691f55"/>
<rect x="946.78" y="175.37" width="17.42" height="17.38" fill="#3c1a42"/>
<rect x="700.50" y="191.75" width="17.42" height="17.38" fill="#3c1a42"/>
<rect x="716.92" y="191.75" width="17.42" height="17.38" fill="#7a1f59"/>
<rect x="733.34" y="191.75" width="17.42" height="17.38" fill="#c21753"/>
<rect x="749.76" y="191.75" width="17.42" height="17.38" fill="#db2946"/>
<rect x="766.17" y="191.75" width="17.42" height="17.38" fill="#f26747"/>
<rect x="782.59" y="191.75" width="17.42" height="17.38" fill="#f58b63"/>
<rect x="799.01" y="191.75" width="17.42" height="17.38" fill="#f6a47c"/>
<rect x="815.43" y="191.75" width="17.42" height="17.38" fill="#f8d9c3"/>
<rect x="831.85" y="191.75" width="17.42" height="17.38" fill="#faebdd"/>
<rect x="848.27" y="191.75" width="17.42" height="17.38" fill="#f6ae87"/>
<rect x="864.69" y="191.75" width="17.42" height="17.38" fill="#f5946b"/>
<rect x="881.11" y="191.75" width="17.42" height="17.38" fill="#f4835b"/>
<rect x="897.52" y="191.75" width="17.42" height="17.38" fill="#eb483e"/>
<rect x="913.94" y="191.75" width="17.42" height="17.38" fill="#cb1b4f"/>
<rect x="930.36" y="191.75" width="17.42" height="17.38" fill="#891e5b"/>
<rect x="946.78" y="191.75" width="17.42" height="17.38" fill="#3c1a42"/>
<rect x="700.50" y="208.13" width="17.42" height="17.38" fill="#34193d"/>
<rect x="716.92" y="208.13" width="17.42" height="17.38" fill="#541e4e"/>
<rect x="733.34" y="208.13" width="17.42" height="17.38" fill="#aa185a"/>
<rect x="749.76" y="208.13" width="17.42" height="17.38" fill="#e03143"/>
<rect x="766.17" y="208.13" width="17.42" height="17.38" fill="#eb483e"/>
<rect x="782.59" y="208.13" width="17.42" height="17.38" fill="#f3714d"/>
<rect x="799.01" y="208.13" width="17.42" height="17.38" fill="#f58b63"/>
<rect x="815.43" y="208.13" width="17.42" height="17.38" fill="#f6ae87"/>
<rect x="831.85" y="208.13" width="17.42" height="17.38" fill="#f6be9b"/>
<rect x="848.27" y="208.13" width="17.42" height="17.38" fill="#f69c73"/>
<rect x="864.69" y="208.13" width="17.42" height="17.38" fill="#f4835b"/>
<rect x="881.11" y="208.13" width="17.42" height="17.38" fill="#ee523f"/>
<rect x="897.52" y="208.13" width="17.42" height="17.38" fill="#c21753"/>
<rect x="913.94" y="208.13" width="17.42" height="17.38" fill="#921c5b"/>
<rect x="930.36" y="208.13" width="17.42" height="17.38" fill="#631f53"/>
<rect x="946.78" y="208.13" width="17.42" height="17.38" fill="#2a1636"/>
<rect x="700.50" y="224.51" width="17.42" height="17.38" fill="#2a1636"/>
<rect x="716.92" y="224.51" width="17.42" height="17.38" fill="#381a40"/>
<rect x="733.34" y="224.51" width="17.42" height="17.38" fill="#691f55"/>
<rect x="749.76" y="224.51" width="17.42" height="17.38" fill="#aa185a"/>
<rect x="766.17" y="224.51" width="17.42" height="17.38" fill="#cb1b4f"/>
<rect x="782.59" y="224.51" width="17.42" height="17.38" fill="#e33641"/>
<rect x="799.01" y="224.51" width="17.42" height="17.38" fill="#f3714d"/>
<rect x="815.43" y="224.51" width="17.42" height="17.38" fill="#f6a47c"/>
<rect x="831.85" y="224.51" width="17.42" height="17.38" fill="#f5946b"/>
<rect x="848.27" y="224.51" width="17.42" height="17.38" fill="#f26747"/>
<rect x="864.69" y="224.51" width="17.42" height="17.38" fill="#eb483e"/>
<rect x="881.11" y="224.51" width="17.42" height="17.38" fill="#d2204c"/>
<rect x="897.52" y="224.51" width="17.42" height="17.38" fill="#9a1b5b"/>
<rect x="913.94" y="224.51" width="17.42" height="17.38" fill="#5e1f52"/>
<rect x="930.36" y="224.51" width="17.42" height="17.38" fill="#3f1b43"/>
<rect x="946.78" y="224.51" width="17.42" height="17.38" fill="#221331"/>
<rect x="700.50" y="240.89" width="17.42" height="17.38" fill="#221331"/>
<rect x="716.92" y="240.89" width="17.42" height="17.38" fill="#2a1636"/>
<rect x="733.34" y="240.89" width="17.42" height="17.38" fill="#5b1e51"/>
<rect x="749.76" y="240.89" width="17.42" height="17.38" fill="#7a1f59"/>
<rect x="766.17" y="240.89" width="17.42" height="17.38" fill="#9a1b5b"/>
<rect x="782.59" y="240.89" width="17.42" height="17.38" fill="#cb1b4f"/>
<rect x="799.01" y="240.89" width="17.42" height="17.38" fill="#e83f3f"/>
<rect x="815.43" y="240.89" width="17.42" height="17.38" fill="#f58b63"/>
<rect x="831.85" y="240.89" width="17.42" height="17.38" fill="#f47a54"/>
<rect x="848.27" y="240.89" width="17.42" height="17.38" fill="#de2e44"/>
<rect x="864.69" y="240.89" width="17.42" height="17.38" fill="#d2204c"/>
<rect x="881.11" y="240.89" width="17.42" height="17.38" fill="#a11a5b"/>
<rect x="897.52" y="240.89" width="17.42" height="17.38" fill="#691f55"/>
<rect x="913.94" y="240.89" width="17.42" height="17.38" fill="#461c48"/>
<rect x="930.36" y="240.89" width="17.42" height="17.38" fill="#31183b"/>
<rect x="946.78" y="240.89" width="17.42" height="17.38" fill="#20122e"/>
<rect x="700.50" y="257.28" width="17.42" height="17.38" fill="#20122e"/>
<rect x="716.92" y="257.28" width="17.42" height="17.38" fill="#271534"/>
<rect x="733.34" y="257.28" width="17.42" height="17.38" fill="#3c1a42"/>
<rect x="749.76" y="257.28" width="17.42" height="17.38" fill="#5b1e51"/>
<rect x="766.17" y="257.28" width="17.42" height="17.38" fill="#7a1f59"/>
<rect x="782.59" y="257.28" width="17.42" height="17.38" fill="#a11a5b"/>
<rect x="799.01" y="257.28" width="17.42" height="17.38" fill="#cb1b4f"/>
<rect x="815.43" y="257.28" width="17.42" height="17.38" fill="#f26747"/>
<rect x="831.85" y="257.28" width="17.42" height="17.38" fill="#eb483e"/>
<rect x="848.27" y="257.28" width="17.42" height="17.38" fill="#c21753"/>
<rect x="864.69" y="257.28" width="17.42" height="17.38" fill="#a11a5b"/>
<rect x="881.11" y="257.28" width="17.42" height="17.38" fill="#811e5a"/>
<rect x="897.52" y="257.28" width="17.42" height="17.38" fill="#541e4e"/>
<rect x="913.94" y="257.28" width="17.42" height="17.38" fill="#381a40"/>
<rect x="930.36" y="257.28" width="17.42" height="17.38" fill="#2a1636"/>
<rect x="946.78" y="257.28" width="17.42" height="17.38" fill="#1b112b"/>
<rect x="700.50" y="273.66" width="17.42" height="17.38" fill="#130d25"/>
<rect x="716.92" y="273.66" width="17.42" height="17.38" fill="#20122e"/>
<rect x="733.34" y="273.66" width="17.42" height="17.38" fill="#221331"/>
<rect x="749.76" y="273.66" width="17.42" height="17.38" fill="#431c46"/>
<rect x="766.17" y="273.66" width="17.42" height="17.38" fill="#4c1d4b"/>
<rect x="782.59" y="273.66" width="17.42" height="17.38" fill="#7a1f59"/>
<rect x="799.01" y="273.66" width="17.42" height="17.38" fill="#9a1b5b"/>
<rect x="815.43" y="273.66" width="17.42" height="17.38" fill="#d2204c"/>
<rect x="831.85" y="273.66" width="17.42" height="17.38" fill="#ba1656"/>
<rect x="848.27" y="273.66" width="17.42" height="17.38" fill="#891e5b"/>
<rect x="864.69" y="273.66" width="17.42" height="17.38" fill="#7a1f59"/>
<rect x="881.11" y="273.66" width="17.42" height="17.38" fill="#541e4e"/>
<rect x="897.52" y="273.66" width="17.42" height="17.38" fill="#3f1b43"/>
<rect x="913.94" y="273.66" width="17.42" height="17.38" fill="#31183b"/>
<rect x="930.36" y="273.66" width="17.42" height="17.38" fill="#20122e"/>
<rect x="946.78" y="273.66" width="17.42" height="17.38" fill="#130d25"/>
<rect x="700.50" y="290.04" width="17.42" height="17.38" fill="#0b0920"/>
<rect x="716.92" y="290.04" width="17.42" height="17.38" fill="#170f28"/>
<rect x="733.34" y="290.04" width="17.42" height="17.38" fill="#1b112b"/>
<rect x="749.76" y="290.04" width="17.42" height="17.38" fill="#20122e"/>
<rect x="766.17" y="290.04" width="17.42" height="17.38" fill="#31183b"/>
<rect x="782.59" y="290.04" width="17.42" height="17.38" fill="#381a40"/>
<rect x="799.01" y="290.04" width="17.42" height="17.38" fill="#541e4e"/>
<rect x="815.43" y="290.04" width="17.42" height="17.38" fill="#691f55"/>
<rect x="831.85" y="290.04" width="17.42" height="17.38" fill="#7a1f59"/>
<rect x="848.27" y="290.04" width="17.42" height="17.38" fill="#5b1e51"/>
<rect x="864.69" y="290.04" width="17.42" height="17.38" fill="#461c48"/>
<rect x="881.11" y="290.04" width="17.42" height="17.38" fill="#31183b"/>
<rect x="897.52" y="290.04" width="17.42" height="17.38" fill="#2a1636"/>
<rect x="913.94" y="290.04" width="17.42" height="17.38" fill="#20122e"/>
<rect x="930.36" y="290.04" width="17.42" height="17.38" fill="#130d25"/>
<rect x="946.78" y="290.04" width="17.42" height="17.38" fill="#0b0920"/>
<rect x="700.50" y="306.42" width="17.42" height="17.38" fill="#07071d"/>
<rect x="716.92" y="306.42" width="17.42" height="17.38" fill="#0b0920"/>
<rect x="733.34" y="306.42" width="17.42" height="17.38" fill="#130d25"/>
<rect x="749.76" y="306.42" width="17.42" height="17.38" fill="#170f28"/>
<rect x="766.17" y="306.42" width="17.42" height="17.38" fill="#20122e"/>
<rect x="782.59" y="306.42" width="17.42" height="17.38" fill="#2a1636"/>
<rect x="799.01" y="306.42" width="17.42" height="17.38" fill="#381a40"/>
<rect x="815.43" y="306.42" width="17.42" height="17.38" fill="#3f1b43"/>
<rect x="831.85" y="306.42" width="17.42" height="17.38" fill="#431c46"/>
<rect x="848.27" y="306.42" width="17.42" height="17.38" fill="#34193d"/>
<rect x="864.69" y="306.42" width="17.42" height="17.38" fill="#2a1636"/>
<rect x="881.11" y="306.42" width="17.42" height="17.38" fill="#20122e"/>
<rect x="897.52" y="306.42" width="17.42" height="17.38" fill="#170f28"/>
<rect x="913.94" y="306.42" width="17.42" height="17.38" fill="#130d25"/>
<rect x="930.36" y="306.42" width="17.42" height="17.38" fill="#0b0920"/>
<rect x="946.78" y="306.42" width="17.42" height="17.38" fill="#07071d"/>
</g>
<g stroke="#000" stroke-width="2.70" fill="none"><line x1="701.20" y1="324.70" x2="701.20" y2="337.25"/><line x1="963.90" y1="324.70" x2="976.45" y2="324.70"/><line x1="753.74" y1="324.70" x2="753.74" y2="331.55"/><line x1="963.90" y1="272.28" x2="970.75" y2="272.28"/><line x1="806.28" y1="324.70" x2="806.28" y2="331.55"/><line x1="963.90" y1="219.86" x2="970.75" y2="219.86"/><line x1="858.82" y1="324.70" x2="858.82" y2="331.55"/><line x1="963.90" y1="167.44" x2="970.75" y2="167.44"/><line x1="911.36" y1="324.70" x2="911.36" y2="331.55"/><line x1="963.90" y1="115.02" x2="970.75" y2="115.02"/><line x1="963.90" y1="324.70" x2="963.90" y2="337.25"/><line x1="963.90" y1="62.60" x2="976.45" y2="62.60"/></g>
<rect x="701.20" y="62.60" width="262.70" height="262.10" fill="none" stroke="#000" stroke-width="3.10"/>
<rect x="702.75" y="322.45" width="259.60" height="1.4" fill="#fff" fill-opacity="0.40"/>
<clipPath id="cp3"><rect x="70.15" y="376.95" width="265.80" height="265.20"/></clipPath>
<g clip-path="url(#cp3)">
<rect x="71.00" y="376.60" width="17.42" height="17.38" fill="#0d0a21"/>
<rect x="87.42" y="376.60" width="17.42" height="17.38" fill="#0d0a21"/>
<rect x="103.84" y="376.60" width="17.42" height="17.38" fill="#1a102a"/>
<rect x="120.26" y="376.60" width="17.42" height="17.38" fill="#221331"/>
<rect x="136.68" y="376.60" width="17.42" height="17.38" fill="#251433"/>
<rect x="153.09" y="376.60" width="17.42" height="17.38" fill="#251433"/>
<rect x="169.51" y="376.60" width="17.42" height="17.38" fill="#2a1636"/>
<rect x="185.93" y="376.60" width="17.42" height="17.38" fill="#381a40"/>
<rect x="202.35" y="376.60" width="17.42" height="17.38" fill="#2d1738"/>
<rect x="218.77" y="376.60" width="17.42" height="17.38" fill="#2d1738"/>
<rect x="235.19" y="376.60" width="17.42" height="17.38" fill="#251433"/>
<rect x="251.61" y="376.60" width="17.42" height="17.38" fill="#251433"/>
<rect x="268.02" y="376.60" width="17.42" height="17.38" fill="#251433"/>
<rect x="284.44" y="376.60" width="17.42" height="17.38" fill="#1e122d"/>
<rect x="300.86" y="376.60" width="17.42" height="17.38" fill="#0d0a21"/>
<rect x="317.28" y="376.60" width="17.42" height="17.38" fill="#08081e"/>
<rect x="71.00" y="392.98" width="17.42" height="17.38" fill="#1a102a"/>
<rect x="87.42" y="392.98" width="17.42" height="17.38" fill="#0d0a21"/>
<rect x="103.84" y="392.98" width="17.42" height="17.38" fill="#1a102a"/>
<rect x="120.26" y="392.98" width="17.42" height="17.38" fill="#1e122d"/>
<rect x="136.68" y="392.98" width="17.42" height="17.38" fill="#2d1738"/>
<rect x="153.09" y="392.98" width="17.42" height="17.38" fill="#2d1738"/>
<rect x="169.51" y="392.98" width="17.42" height="17.38" fill="#34193d"/>
<rect x="185.93" y="392.98" width="17.42" height="17.38" fill="#5b1e51"/>
<rect x="202.35" y="392.98" width="17.42" height="17.38" fill="#451c47"/>
<rect x="218.77" y="392.98" width="17.42" height="17.38" fill="#401b44"/>
<rect x="235.19" y="392.98" width="17.42" height="17.38" fill="#2d1738"/>
<rect x="251.61" y="392.98" width="17.42" height="17.38" fill="#2d1738"/>
<rect x="268.02" y="392.98" width="17.42" height="17.38" fill="#251433"/>
<rect x="284.44" y="392.98" width="17.42" height="17.38" fill="#1e122d"/>
<rect x="300.86" y="392.98" width="17.42" height="17.38" fill="#0d0a21"/>
<rect x="317.28" y="392.98" width="17.42" height="17.38" fill="#08081e"/>
<rect x="71.00" y="409.36" width="17.42" height="17.38" fill="#1a102a"/>
<rect x="87.42" y="409.36" width="17.42" height="17.38" fill="#1a102a"/>
<rect x="103.84" y="409.36" width="17.42" height="17.38" fill="#1e122d"/>
<rect x="120.26" y="409.36" width="17.42" height="17.38" fill="#2d1738"/>
<rect x="136.68" y="409.36" width="17.42" height="17.38" fill="#3c1a42"/>
<rect x="153.09" y="409.36" width="17.42" height="17.38" fill="#481c48"/>
<rect x="169.51" y="409.36" width="17.42" height="17.38" fill="#4b1d4a"/>
<rect x="185.93" y="409.36" width="17.42" height="17.38" fill="#7a1f59"/>
<rect x="202.35" y="409.36" width="17.42" height="17.38" fill="#7a1f59"/>
<rect x="218.77" y="409.36" width="17.42" height="17.38" fill="#531e4d"/>
<rect x="235.19" y="409.36" width="17.42" height="17.38" fill="#401b44"/>
<rect x="251.61" y="409.36" width="17.42" height="17.38" fill="#381a40"/>
<rect x="268.02" y="409.36" width="17.42" height="17.38" fill="#2d1738"/>
<rect x="284.44" y="409.36" width="17.42" height="17.38" fill="#251433"/>
<rect x="300.86" y="409.36" width="17.42" height="17.38" fill="#1a102a"/>
<rect x="317.28" y="409.36" width="17.42" height="17.38" fill="#130d25"/>
<rect x="71.00" y="425.74" width="17.42" height="17.38" fill="#1e122d"/>
<rect x="87.42" y="425.74" width="17.42" height="17.38" fill="#221331"/>
<rect x="103.84" y="425.74" width="17.42" height="17.38" fill="#34193d"/>
<rect x="120.26" y="425.74" width="17.42" height="17.38" fill="#34193d"/>
<rect x="136.68" y="425.74" width="17.42" height="17.38" fill="#481c48"/>
<rect x="153.09" y="425.74" width="17.42" height="17.38" fill="#531e4d"/>
<rect x="169.51" y="425.74" width="17.42" height="17.38" fill="#811e5a"/>
<rect x="185.93" y="425.74" width="17.42" height="17.38" fill="#bf1654"/>
<rect x="202.35" y="425.74" width="17.42" height="17.38" fill="#aa185a"/>
<rect x="218.77" y="425.74" width="17.42" height="17.38" fill="#861e5b"/>
<rect x="235.19" y="425.74" width="17.42" height="17.38" fill="#531e4d"/>
<rect x="251.61" y="425.74" width="17.42" height="17.38" fill="#451c47"/>
<rect x="268.02" y="425.74" width="17.42" height="17.38" fill="#401b44"/>
<rect x="284.44" y="425.74" width="17.42" height="17.38" fill="#34193d"/>
<rect x="300.86" y="425.74" width="17.42" height="17.38" fill="#251433"/>
<rect x="317.28" y="425.74" width="17.42" height="17.38" fill="#221331"/>
<rect x="71.00" y="442.12" width="17.42" height="17.38" fill="#1e122d"/>
<rect x="87.42" y="442.12" width="17.42" height="17.38" fill="#251433"/>
<rect x="103.84" y="442.12" width="17.42" height="17.38" fill="#3c1a42"/>
<rect x="120.26" y="442.12" width="17.42" height="17.38" fill="#4b1d4a"/>
<rect x="136.68" y="442.12" width="17.42" height="17.38" fill="#661f54"/>
<rect x="153.09" y="442.12" width="17.42" height="17.38" fill="#7a1f59"/>
<rect x="169.51" y="442.12" width="17.42" height="17.38" fill="#921c5b"/>
<rect x="185.93" y="442.12" width="17.42" height="17.38" fill="#ba1656"/>
<rect x="202.35" y="442.12" width="17.42" height="17.38" fill="#cb1b4f"/>
<rect x="218.77" y="442.12" width="17.42" height="17.38" fill="#a11a5b"/>
<rect x="235.19" y="442.12" width="17.42" height="17.38" fill="#811e5a"/>
<rect x="251.61" y="442.12" width="17.42" height="17.38" fill="#691f55"/>
<rect x="268.02" y="442.12" width="17.42" height="17.38" fill="#4b1d4a"/>
<rect x="284.44" y="442.12" width="17.42" height="17.38" fill="#451c47"/>
<rect x="300.86" y="442.12" width="17.42" height="17.38" fill="#2d1738"/>
<rect x="317.28" y="442.12" width="17.42" height="17.38" fill="#251433"/>
<rect x="71.00" y="458.51" width="17.42" height="17.38" fill="#251433"/>
<rect x="87.42" y="458.51" width="17.42" height="17.38" fill="#34193d"/>
<rect x="103.84" y="458.51" width="17.42" height="17.38" fill="#401b44"/>
<rect x="120.26" y="458.51" width="17.42" height="17.38" fill="#531e4d"/>
<rect x="136.68" y="458.51" width="17.42" height="17.38" fill="#7a1f59"/>
<rect x="153.09" y="458.51" width="17.42" height="17.38" fill="#aa185a"/>
<rect x="169.51" y="458.51" width="17.42" height="17.38" fill="#d2204c"/>
<rect x="185.93" y="458.51" width="17.42" height="17.38" fill="#e83f3f"/>
<rect x="202.35" y="458.51" width="17.42" height="17.38" fill="#eb483e"/>
<rect x="218.77" y="458.51" width="17.42" height="17.38" fill="#cb1b4f"/>
<rect x="235.19" y="458.51" width="17.42" height="17.38" fill="#a11a5b"/>
<rect x="251.61" y="458.51" width="17.42" height="17.38" fill="#711f57"/>
<rect x="268.02" y="458.51" width="17.42" height="17.38" fill="#5b1e51"/>
<rect x="284.44" y="458.51" width="17.42" height="17.38" fill="#4b1d4a"/>
<rect x="300.86" y="458.51" width="17.42" height="17.38" fill="#34193d"/>
<rect x="317.28" y="458.51" width="17.42" height="17.38" fill="#251433"/>
<rect x="71.00" y="474.89" width="17.42" height="17.38" fill="#34193d"/>
<rect x="87.42" y="474.89" width="17.42" height="17.38" fill="#451c47"/>
<rect x="103.84" y="474.89" width="17.42" height="17.38" fill="#5b1e51"/>
<rect x="120.26" y="474.89" width="17.42" height="17.38" fill="#7a1f59"/>
<rect x="136.68" y="474.89" width="17.42" height="17.38" fill="#a11a5b"/>
<rect x="153.09" y="474.89" width="17.42" height="17.38" fill="#d2204c"/>
<rect x="169.51" y="474.89" width="17.42" height="17.38" fill="#eb483e"/>
<rect x="185.93" y="474.89" width="17.42" height="17.38" fill="#f4835b"/>
<rect x="202.35" y="474.89" width="17.42" height="17.38" fill="#f5946b"/>
<rect x="218.77" y="474.89" width="17.42" height="17.38" fill="#ee523f"/>
<rect x="235.19" y="474.89" width="17.42" height="17.38" fill="#cb1b4f"/>
<rect x="251.61" y="474.89" width="17.42" height="17.38" fill="#a11a5b"/>
<rect x="268.02" y="474.89" width="17.42" height="17.38" fill="#7a1f59"/>
<rect x="284.44" y="474.89" width="17.42" height="17.38" fill="#5b1e51"/>
<rect x="300.86" y="474.89" width="17.42" height="17.38" fill="#401b44"/>
<rect x="317.28" y="474.89" width="17.42" height="17.38" fill="#2d1738"/>
<rect x="71.00" y="491.27" width="17.42" height="17.38" fill="#401b44"/>
<rect x="87.42" y="491.27" width="17.42" height="17.38" fill="#531e4d"/>
<rect x="103.84" y="491.27" width="17.42" height="17.38" fill="#661f54"/>
<rect x="120.26" y="491.27" width="17.42" height="17.38" fill="#811e5a"/>
<rect x="136.68" y="491.27" width="17.42" height="17.38" fill="#ba1656"/>
<rect x="153.09" y="491.27" width="17.42" height="17.38" fill="#e83f3f"/>
<rect x="169.51" y="491.27" width="17.42" height="17.38" fill="#f47a54"/>
<rect x="185.93" y="491.27" width="17.42" height="17.38" fill="#f7cdb1"/>
<rect x="202.35" y="491.27" width="17.42" height="17.38" fill="#f9e0cd"/>
<rect x="218.77" y="491.27" width="17.42" height="17.38" fill="#f58b63"/>
<rect x="235.19" y="491.27" width="17.42" height="17.38" fill="#e83f3f"/>
<rect x="251.61" y="491.27" width="17.42" height="17.38" fill="#ba1656"/>
<rect x="268.02" y="491.27" width="17.42" height="17.38" fill="#9a1b5b"/>
<rect x="284.44" y="491.27" width="17.42" height="17.38" fill="#7a1f59"/>
<rect x="300.86" y="491.27" width="17.42" height="17.38" fill="#5b1e51"/>
<rect x="317.28" y="491.27" width="17.42" height="17.38" fill="#34193d"/>
<rect x="71.00" y="507.65" width="17.42" height="17.38" fill="#401b44"/>
<rect x="87.42" y="507.65" width="17.42" height="17.38" fill="#4b1d4a"/>
<rect x="103.84" y="507.65" width="17.42" height="17.38" fill="#811e5a"/>
<rect x="120.26" y="507.65" width="17.42" height="17.38" fill="#a11a5b"/>
<rect x="136.68" y="507.65" width="17.42" height="17.38" fill="#cb1b4f"/>
<rect x="153.09" y="507.65" width="17.42" height="17.38" fill="#e83f3f"/>
<rect x="169.51" y="507.65" width="17.42" height="17.38" fill="#f47a54"/>
<rect x="185.93" y="507.65" width="17.42" height="17.38" fill="#f8d9c3"/>
<rect x="202.35" y="507.65" width="17.42" height="17.38" fill="#faebdd"/>
<rect x="218.77" y="507.65" width="17.42" height="17.38" fill="#f5946b"/>
<rect x="235.19" y="507.65" width="17.42" height="17.38" fill="#eb483e"/>
<rect x="251.61" y="507.65" width="17.42" height="17.38" fill="#c21753"/>
<rect x="268.02" y="507.65" width="17.42" height="17.38" fill="#aa185a"/>
<rect x="284.44" y="507.65" width="17.42" height="17.38" fill="#8e1d5b"/>
<rect x="300.86" y="507.65" width="17.42" height="17.38" fill="#5b1e51"/>
<rect x="317.28" y="507.65" width="17.42" height="17.38" fill="#34193d"/>
<rect x="71.00" y="524.03" width="17.42" height="17.38" fill="#34193d"/>
<rect x="87.42" y="524.03" width="17.42" height="17.38" fill="#481c48"/>
<rect x="103.84" y="524.03" width="17.42" height="17.38" fill="#5b1e51"/>
<rect x="120.26" y="524.03" width="17.42" height="17.38" fill="#7a1f59"/>
<rect x="136.68" y="524.03" width="17.42" height="17.38" fill="#aa185a"/>
<rect x="153.09" y="524.03" width="17.42" height="17.38" fill="#d2204c"/>
<rect x="169.51" y="524.03" width="17.42" height="17.38" fill="#f05c42"/>
<rect x="185.93" y="524.03" width="17.42" height="17.38" fill="#f4835b"/>
<rect x="202.35" y="524.03" width="17.42" height="17.38" fill="#f5946b"/>
<rect x="218.77" y="524.03" width="17.42" height="17.38" fill="#f3714d"/>
<rect x="235.19" y="524.03" width="17.42" height="17.38" fill="#e33641"/>
<rect x="251.61" y="524.03" width="17.42" height="17.38" fill="#b71657"/>
<rect x="268.02" y="524.03" width="17.42" height="17.38" fill="#7a1f59"/>
<rect x="284.44" y="524.03" width="17.42" height="17.38" fill="#661f54"/>
<rect x="300.86" y="524.03" width="17.42" height="17.38" fill="#451c47"/>
<rect x="317.28" y="524.03" width="17.42" height="17.38" fill="#2d1738"/>
<rect x="71.00" y="540.41" width="17.42" height="17.38" fill="#2d1738"/>
<rect x="87.42" y="540.41" width="17.42" height="17.38" fill="#34193d"/>
<rect x="103.84" y="540.41" width="17.42" height="17.38" fill="#451c47"/>
<rect x="120.26" y="540.41" width="17.42" height="17.38" fill="#531e4d"/>
<rect x="136.68" y="540.41" width="17.42" height="17.38" fill="#7a1f59"/>
<rect x="153.09" y="540.41" width="17.42" height="17.38" fill="#a11a5b"/>
<rect x="169.51" y="540.41" width="17.42" height="17.38" fill="#d2204c"/>
<rect x="185.93" y="540.41" width="17.42" height="17.38" fill="#eb483e"/>
<rect x="202.35" y="540.41" width="17.42" height="17.38" fill="#ee523f"/>
<rect x="218.77" y="540.41" width="17.42" height="17.38" fill="#d2204c"/>
<rect x="235.19" y="540.41" width="17.42" height="17.38" fill="#aa185a"/>
<rect x="251.61" y="540.41" width="17.42" height="17.38" fill="#7a1f59"/>
<rect x="268.02" y="540.41" width="17.42" height="17.38" fill="#661f54"/>
<rect x="284.44" y="540.41" width="17.42" height="17.38" fill="#4b1d4a"/>
<rect x="300.86" y="540.41" width="17.42" height="17.38" fill="#34193d"/>
<rect x="317.28" y="540.41" width="17.42" height="17.38" fill="#251433"/>
<rect x="71.00" y="556.79" width="17.42" height="17.38" fill="#251433"/>
<rect x="87.42" y="556.79" width="17.42" height="17.38" fill="#2a1636"/>
<rect x="103.84" y="556.79" width="17.42" height="17.38" fill="#34193d"/>
<rect x="120.26" y="556.79" width="17.42" height="17.38" fill="#451c47"/>
<rect x="136.68" y="556.79" width="17.42" height="17.38" fill="#661f54"/>
<rect x="153.09" y="556.79" width="17.42" height="17.38" fill="#6e1f57"/>
<rect x="169.51" y="556.79" width="17.42" height="17.38" fill="#c21753"/>
<rect x="185.93" y="556.79" width="17.42" height="17.38" fill="#de2e44"/>
<rect x="202.35" y="556.79" width="17.42" height="17.38" fill="#d2204c"/>
<rect x="218.77" y="556.79" width="17.42" height="17.38" fill="#a11a5b"/>
<rect x="235.19" y="556.79" width="17.42" height="17.38" fill="#7a1f59"/>
<rect x="251.61" y="556.79" width="17.42" height="17.38" fill="#691f55"/>
<rect x="268.02" y="556.79" width="17.42" height="17.38" fill="#4b1d4a"/>
<rect x="284.44" y="556.79" width="17.42" height="17.38" fill="#3c1a42"/>
<rect x="300.86" y="556.79" width="17.42" height="17.38" fill="#2d1738"/>
<rect x="317.28" y="556.79" width="17.42" height="17.38" fill="#1e122d"/>
<rect x="71.00" y="573.18" width="17.42" height="17.38" fill="#1e122d"/>
<rect x="87.42" y="573.18" width="17.42" height="17.38" fill="#251433"/>
<rect x="103.84" y="573.18" width="17.42" height="17.38" fill="#2d1738"/>
<rect x="120.26" y="573.18" width="17.42" height="17.38" fill="#3c1a42"/>
<rect x="136.68" y="573.18" width="17.42" height="17.38" fill="#451c47"/>
<rect x="153.09" y="573.18" width="17.42" height="17.38" fill="#5b1e51"/>
<rect x="169.51" y="573.18" width="17.42" height="17.38" fill="#7a1f59"/>
<rect x="185.93" y="573.18" width="17.42" height="17.38" fill="#a11a5b"/>
<rect x="202.35" y="573.18" width="17.42" height="17.38" fill="#a11a5b"/>
<rect x="218.77" y="573.18" width="17.42" height="17.38" fill="#691f55"/>
<rect x="235.19" y="573.18" width="17.42" height="17.38" fill="#5b1e51"/>
<rect x="251.61" y="573.18" width="17.42" height="17.38" fill="#4b1d4a"/>
<rect x="268.02" y="573.18" width="17.42" height="17.38" fill="#401b44"/>
<rect x="284.44" y="573.18" width="17.42" height="17.38" fill="#34193d"/>
<rect x="300.86" y="573.18" width="17.42" height="17.38" fill="#251433"/>
<rect x="317.28" y="573.18" width="17.42" height="17.38" fill="#1a102a"/>
<rect x="71.00" y="589.56" width="17.42" height="17.38" fill="#130d25"/>
<rect x="87.42" y="589.56" width="17.42" height="17.38" fill="#1a102a"/>
<rect x="103.84" y="589.56" width="17.42" height="17.38" fill="#251433"/>
<rect x="120.26" y="589.56" width="17.42" height="17.38" fill="#34193d"/>
<rect x="136.68" y="589.56" width="17.42" height="17.38" fill="#3c1a42"/>
<rect x="153.09" y="589.56" width="17.42" height="17.38" fill="#481c48"/>
<rect x="169.51" y="589.56" width="17.42" height="17.38" fill="#5b1e51"/>
<rect x="185.93" y="589.56" width="17.42" height="17.38" fill="#811e5a"/>
<rect x="202.35" y="589.56" width="17.42" height="17.38" fill="#811e5a"/>
<rect x="218.77" y="589.56" width="17.42" height="17.38" fill="#531e4d"/>
<rect x="235.19" y="589.56" width="17.42" height="17.38" fill="#481c48"/>
<rect x="251.61" y="589.56" width="17.42" height="17.38" fill="#3c1a42"/>
<rect x="268.02" y="589.56" width="17.42" height="17.38" fill="#251433"/>
<rect x="284.44" y="589.56" width="17.42" height="17.38" fill="#2d1738"/>
<rect x="300.86" y="589.56" width="17.42" height="17.38" fill="#1a102a"/>
<rect x="317.28" y="589.56" width="17.42" height="17.38" fill="#0d0a21"/>
<rect x="71.00" y="605.94" width="17.42" height="17.38" fill="#0d0a21"/>
<rect x="87.42" y="605.94" width="17.42" height="17.38" fill="#0d0a21"/>
<rect x="103.84" y="605.94" width="17.42" height="17.38" fill="#1e122d"/>
<rect x="120.26" y="605.94" width="17.42" height="17.38" fill="#2d1738"/>
<rect x="136.68" y="605.94" width="17.42" height="17.38" fill="#31183b"/>
<rect x="153.09" y="605.94" width="17.42" height="17.38" fill="#381a40"/>
<rect x="169.51" y="605.94" width="17.42" height="17.38" fill="#451c47"/>
<rect x="185.93" y="605.94" width="17.42" height="17.38" fill="#531e4d"/>
<rect x="202.35" y="605.94" width="17.42" height="17.38" fill="#531e4d"/>
<rect x="218.77" y="605.94" width="17.42" height="17.38" fill="#481c48"/>
<rect x="235.19" y="605.94" width="17.42" height="17.38" fill="#381a40"/>
<rect x="251.61" y="605.94" width="17.42" height="17.38" fill="#221331"/>
<rect x="268.02" y="605.94" width="17.42" height="17.38" fill="#221331"/>
<rect x="284.44" y="605.94" width="17.42" height="17.38" fill="#251433"/>
<rect x="300.86" y="605.94" width="17.42" height="17.38" fill="#130d25"/>
<rect x="317.28" y="605.94" width="17.42" height="17.38" fill="#0d0a21"/>
<rect x="71.00" y="622.32" width="17.42" height="17.38" fill="#0d0a21"/>
<rect x="87.42" y="622.32" width="17.42" height="17.38" fill="#0d0a21"/>
<rect x="103.84" y="622.32" width="17.42" height="17.38" fill="#1a102a"/>
<rect x="120.26" y="622.32" width="17.42" height="17.38" fill="#221331"/>
<rect x="136.68" y="622.32" width="17.42" height="17.38" fill="#251433"/>
<rect x="153.09" y="622.32" width="17.42" height="17.38" fill="#2d1738"/>
<rect x="169.51" y="622.32" width="17.42" height="17.38" fill="#31183b"/>
<rect x="185.93" y="622.32" width="17.42" height="17.38" fill="#3c1a42"/>
<rect x="202.35" y="622.32" width="17.42" height="17.38" fill="#381a40"/>
<rect x="218.77" y="622.32" width="17.42" height="17.38" fill="#34193d"/>
<rect x="235.19" y="622.32" width="17.42" height="17.38" fill="#2d1738"/>
<rect x="251.61" y="622.32" width="17.42" height="17.38" fill="#1e122d"/>
<rect x="268.02" y="622.32" width="17.42" height="17.38" fill="#1e122d"/>
<rect x="284.44" y="622.32" width="17.42" height="17.38" fill="#1a102a"/>
<rect x="300.86" y="622.32" width="17.42" height="17.38" fill="#130d25"/>
<rect x="317.28" y="622.32" width="17.42" height="17.38" fill="#08081e"/>
</g>
<g stroke="#000" stroke-width="2.70" fill="none"><line x1="71.70" y1="640.60" x2="71.70" y2="653.15"/><line x1="334.40" y1="640.60" x2="346.95" y2="640.60"/><line x1="124.24" y1="640.60" x2="124.24" y2="647.45"/><line x1="334.40" y1="588.18" x2="341.25" y2="588.18"/><line x1="176.78" y1="640.60" x2="176.78" y2="647.45"/><line x1="334.40" y1="535.76" x2="341.25" y2="535.76"/><line x1="229.32" y1="640.60" x2="229.32" y2="647.45"/><line x1="334.40" y1="483.34" x2="341.25" y2="483.34"/><line x1="281.86" y1="640.60" x2="281.86" y2="647.45"/><line x1="334.40" y1="430.92" x2="341.25" y2="430.92"/><line x1="334.40" y1="640.60" x2="334.40" y2="653.15"/><line x1="334.40" y1="378.50" x2="346.95" y2="378.50"/></g>
<rect x="71.70" y="378.50" width="262.70" height="262.10" fill="none" stroke="#000" stroke-width="3.10"/>
<rect x="73.25" y="638.35" width="259.60" height="1.4" fill="#fff" fill-opacity="0.40"/>
<clipPath id="cp4"><rect x="384.75" y="376.95" width="265.80" height="265.20"/></clipPath>
<g clip-path="url(#cp4)">
<rect x="385.60" y="376.60" width="17.42" height="17.38" fill="#08081e"/>
<rect x="402.02" y="376.60" width="17.42" height="17.38" fill="#08081e"/>
<rect x="418.44" y="376.60" width="17.42" height="17.38" fill="#08081e"/>
<rect x="434.86" y="376.60" width="17.42" height="17.38" fill="#1a102a"/>
<rect x="451.28" y="376.60" width="17.42" height="17.38" fill="#1e122d"/>
<rect x="467.69" y="376.60" width="17.42" height="17.38" fill="#221331"/>
<rect x="484.11" y="376.60" width="17.42" height="17.38" fill="#251433"/>
<rect x="500.53" y="376.60" width="17.42" height="17.38" fill="#2d1738"/>
<rect x="516.95" y="376.60" width="17.42" height="17.38" fill="#251433"/>
<rect x="533.37" y="376.60" width="17.42" height="17.38" fill="#221331"/>
<rect x="549.79" y="376.60" width="17.42" height="17.38" fill="#1e122d"/>
<rect x="566.21" y="376.60" width="17.42" height="17.38" fill="#1a102a"/>
<rect x="582.62" y="376.60" width="17.42" height="17.38" fill="#130d25"/>
<rect x="599.04" y="376.60" width="17.42" height="17.38" fill="#0d0a21"/>
<rect x="615.46" y="376.60" width="17.42" height="17.38" fill="#08081e"/>
<rect x="631.88" y="376.60" width="17.42" height="17.38" fill="#08081e"/>
<rect x="385.60" y="392.98" width="17.42" height="17.38" fill="#08081e"/>
<rect x="402.02" y="392.98" width="17.42" height="17.38" fill="#0d0a21"/>
<rect x="418.44" y="392.98" width="17.42" height="17.38" fill="#130d25"/>
<rect x="434.86" y="392.98" width="17.42" height="17.38" fill="#1a102a"/>
<rect x="451.28" y="392.98" width="17.42" height="17.38" fill="#221331"/>
<rect x="467.69" y="392.98" width="17.42" height="17.38" fill="#2d1738"/>
<rect x="484.11" y="392.98" width="17.42" height="17.38" fill="#34193d"/>
<rect x="500.53" y="392.98" width="17.42" height="17.38" fill="#4b1d4a"/>
<rect x="516.95" y="392.98" width="17.42" height="17.38" fill="#451c47"/>
<rect x="533.37" y="392.98" width="17.42" height="17.38" fill="#2d1738"/>
<rect x="549.79" y="392.98" width="17.42" height="17.38" fill="#2a1636"/>
<rect x="566.21" y="392.98" width="17.42" height="17.38" fill="#221331"/>
<rect x="582.62" y="392.98" width="17.42" height="17.38" fill="#1e122d"/>
<rect x="599.04" y="392.98" width="17.42" height="17.38" fill="#130d25"/>
<rect x="615.46" y="392.98" width="17.42" height="17.38" fill="#0d0a21"/>
<rect x="631.88" y="392.98" width="17.42" height="17.38" fill="#08081e"/>
<rect x="385.60" y="409.36" width="17.42" height="17.38" fill="#130d25"/>
<rect x="402.02" y="409.36" width="17.42" height="17.38" fill="#130d25"/>
<rect x="418.44" y="409.36" width="17.42" height="17.38" fill="#1e122d"/>
<rect x="434.86" y="409.36" width="17.42" height="17.38" fill="#251433"/>
<rect x="451.28" y="409.36" width="17.42" height="17.38" fill="#2d1738"/>
<rect x="467.69" y="409.36" width="17.42" height="17.38" fill="#481c48"/>
<rect x="484.11" y="409.36" width="17.42" height="17.38" fill="#5b1e51"/>
<rect x="500.53" y="409.36" width="17.42" height="17.38" fill="#921c5b"/>
<rect x="516.95" y="409.36" width="17.42" height="17.38" fill="#7a1f59"/>
<rect x="533.37" y="409.36" width="17.42" height="17.38" fill="#4b1d4a"/>
<rect x="549.79" y="409.36" width="17.42" height="17.38" fill="#381a40"/>
<rect x="566.21" y="409.36" width="17.42" height="17.38" fill="#2d1738"/>
<rect x="582.62" y="409.36" width="17.42" height="17.38" fill="#251433"/>
<rect x="599.04" y="409.36" width="17.42" height="17.38" fill="#1a102a"/>
<rect x="615.46" y="409.36" width="17.42" height="17.38" fill="#130d25"/>
<rect x="631.88" y="409.36" width="17.42" height="17.38" fill="#0d0a21"/>
<rect x="385.60" y="425.74" width="17.42" height="17.38" fill="#1a102a"/>
<rect x="402.02" y="425.74" width="17.42" height="17.38" fill="#251433"/>
<rect x="418.44" y="425.74" width="17.42" height="17.38" fill="#2d1738"/>
<rect x="434.86" y="425.74" width="17.42" height="17.38" fill="#34193d"/>
<rect x="451.28" y="425.74" width="17.42" height="17.38" fill="#4b1d4a"/>
<rect x="467.69" y="425.74" width="17.42" height="17.38" fill="#5b1e51"/>
<rect x="484.11" y="425.74" width="17.42" height="17.38" fill="#a11a5b"/>
<rect x="500.53" y="425.74" width="17.42" height="17.38" fill="#de2e44"/>
<rect x="516.95" y="425.74" width="17.42" height="17.38" fill="#db2946"/>
<rect x="533.37" y="425.74" width="17.42" height="17.38" fill="#9a1b5b"/>
<rect x="549.79" y="425.74" width="17.42" height="17.38" fill="#531e4d"/>
<rect x="566.21" y="425.74" width="17.42" height="17.38" fill="#401b44"/>
<rect x="582.62" y="425.74" width="17.42" height="17.38" fill="#34193d"/>
<rect x="599.04" y="425.74" width="17.42" height="17.38" fill="#251433"/>
<rect x="615.46" y="425.74" width="17.42" height="17.38" fill="#1a102a"/>
<rect x="631.88" y="425.74" width="17.42" height="17.38" fill="#130d25"/>
<rect x="385.60" y="442.12" width="17.42" height="17.38" fill="#1e122d"/>
<rect x="402.02" y="442.12" width="17.42" height="17.38" fill="#251433"/>
<rect x="418.44" y="442.12" width="17.42" height="17.38" fill="#381a40"/>
<rect x="434.86" y="442.12" width="17.42" height="17.38" fill="#531e4d"/>
<rect x="451.28" y="442.12" width="17.42" height="17.38" fill="#7a1f59"/>
<rect x="467.69" y="442.12" width="17.42" height="17.38" fill="#9a1b5b"/>
<rect x="484.11" y="442.12" width="17.42" height="17.38" fill="#ba1656"/>
<rect x="500.53" y="442.12" width="17.42" height="17.38" fill="#e33641"/>
<rect x="516.95" y="442.12" width="17.42" height="17.38" fill="#de2e44"/>
<rect x="533.37" y="442.12" width="17.42" height="17.38" fill="#c21753"/>
<rect x="549.79" y="442.12" width="17.42" height="17.38" fill="#921c5b"/>
<rect x="566.21" y="442.12" width="17.42" height="17.38" fill="#531e4d"/>
<rect x="582.62" y="442.12" width="17.42" height="17.38" fill="#4b1d4a"/>
<rect x="599.04" y="442.12" width="17.42" height="17.38" fill="#34193d"/>
<rect x="615.46" y="442.12" width="17.42" height="17.38" fill="#251433"/>
<rect x="631.88" y="442.12" width="17.42" height="17.38" fill="#1a102a"/>
<rect x="385.60" y="458.51" width="17.42" height="17.38" fill="#221331"/>
<rect x="402.02" y="458.51" width="17.42" height="17.38" fill="#2d1738"/>
<rect x="418.44" y="458.51" width="17.42" height="17.38" fill="#4b1d4a"/>
<rect x="434.86" y="458.51" width="17.42" height="17.38" fill="#5b1e51"/>
<rect x="451.28" y="458.51" width="17.42" height="17.38" fill="#aa185a"/>
<rect x="467.69" y="458.51" width="17.42" height="17.38" fill="#d2204c"/>
<rect x="484.11" y="458.51" width="17.42" height="17.38" fill="#db2946"/>
<rect x="500.53" y="458.51" width="17.42" height="17.38" fill="#f4835b"/>
<rect x="516.95" y="458.51" width="17.42" height="17.38" fill="#f26747"/>
<rect x="533.37" y="458.51" width="17.42" height="17.38" fill="#e83f3f"/>
<rect x="549.79" y="458.51" width="17.42" height="17.38" fill="#cb1b4f"/>
<rect x="566.21" y="458.51" width="17.42" height="17.38" fill="#811e5a"/>
<rect x="582.62" y="458.51" width="17.42" height="17.38" fill="#5b1e51"/>
<rect x="599.04" y="458.51" width="17.42" height="17.38" fill="#3c1a42"/>
<rect x="615.46" y="458.51" width="17.42" height="17.38" fill="#251433"/>
<rect x="631.88" y="458.51" width="17.42" height="17.38" fill="#1e122d"/>
<rect x="385.60" y="474.89" width="17.42" height="17.38" fill="#251433"/>
<rect x="402.02" y="474.89" width="17.42" height="17.38" fill="#3c1a42"/>
<rect x="418.44" y="474.89" width="17.42" height="17.38" fill="#5b1e51"/>
<rect x="434.86" y="474.89" width="17.42" height="17.38" fill="#b21758"/>
<rect x="451.28" y="474.89" width="17.42" height="17.38" fill="#d2204c"/>
<rect x="467.69" y="474.89" width="17.42" height="17.38" fill="#eb483e"/>
<rect x="484.11" y="474.89" width="17.42" height="17.38" fill="#f26747"/>
<rect x="500.53" y="474.89" width="17.42" height="17.38" fill="#f6ae87"/>
<rect x="516.95" y="474.89" width="17.42" height="17.38" fill="#f5946b"/>
<rect x="533.37" y="474.89" width="17.42" height="17.38" fill="#f26747"/>
<rect x="549.79" y="474.89" width="17.42" height="17.38" fill="#db2946"/>
<rect x="566.21" y="474.89" width="17.42" height="17.38" fill="#ba1656"/>
<rect x="582.62" y="474.89" width="17.42" height="17.38" fill="#891e5b"/>
<rect x="599.04" y="474.89" width="17.42" height="17.38" fill="#531e4d"/>
<rect x="615.46" y="474.89" width="17.42" height="17.38" fill="#2d1738"/>
<rect x="631.88" y="474.89" width="17.42" height="17.38" fill="#221331"/>
<rect x="385.60" y="491.27" width="17.42" height="17.38" fill="#2d1738"/>
<rect x="402.02" y="491.27" width="17.42" height="17.38" fill="#401b44"/>
<rect x="418.44" y="491.27" width="17.42" height="17.38" fill="#691f55"/>
<rect x="434.86" y="491.27" width="17.42" height="17.38" fill="#b21758"/>
<rect x="451.28" y="491.27" width="17.42" height="17.38" fill="#e33641"/>
<rect x="467.69" y="491.27" width="17.42" height="17.38" fill="#eb483e"/>
<rect x="484.11" y="491.27" width="17.42" height="17.38" fill="#f47a54"/>
<rect x="500.53" y="491.27" width="17.42" height="17.38" fill="#f8d1b8"/>
<rect x="516.95" y="491.27" width="17.42" height="17.38" fill="#f7cdb1"/>
<rect x="533.37" y="491.27" width="17.42" height="17.38" fill="#f58b63"/>
<rect x="549.79" y="491.27" width="17.42" height="17.38" fill="#f05c42"/>
<rect x="566.21" y="491.27" width="17.42" height="17.38" fill="#e33641"/>
<rect x="582.62" y="491.27" width="17.42" height="17.38" fill="#a11a5b"/>
<rect x="599.04" y="491.27" width="17.42" height="17.38" fill="#661f54"/>
<rect x="615.46" y="491.27" width="17.42" height="17.38" fill="#3c1a42"/>
<rect x="631.88" y="491.27" width="17.42" height="17.38" fill="#251433"/>
<rect x="385.60" y="507.65" width="17.42" height="17.38" fill="#2d1738"/>
<rect x="402.02" y="507.65" width="17.42" height="17.38" fill="#451c47"/>
<rect x="418.44" y="507.65" width="17.42" height="17.38" fill="#691f55"/>
<rect x="434.86" y="507.65" width="17.42" height="17.38" fill="#9a1b5b"/>
<rect x="451.28" y="507.65" width="17.42" height="17.38" fill="#de2e44"/>
<rect x="467.69" y="507.65" width="17.42" height="17.38" fill="#f3714d"/>
<rect x="484.11" y="507.65" width="17.42" height="17.38" fill="#f5946b"/>
<rect x="500.53" y="507.65" width="17.42" height="17.38" fill="#f8d1b8"/>
<rect x="516.95" y="507.65" width="17.42" height="17.38" fill="#faebdd"/>
<rect x="533.37" y="507.65" width="17.42" height="17.38" fill="#f6a47c"/>
<rect x="549.79" y="507.65" width="17.42" height="17.38" fill="#f47a54"/>
<rect x="566.21" y="507.65" width="17.42" height="17.38" fill="#e83f3f"/>
<rect x="582.62" y="507.65" width="17.42" height="17.38" fill="#a11a5b"/>
<rect x="599.04" y="507.65" width="17.42" height="17.38" fill="#661f54"/>
<rect x="615.46" y="507.65" width="17.42" height="17.38" fill="#401b44"/>
<rect x="631.88" y="507.65" width="17.42" height="17.38" fill="#251433"/>
<rect x="385.60" y="524.03" width="17.42" height="17.38" fill="#251433"/>
<rect x="402.02" y="524.03" width="17.42" height="17.38" fill="#34193d"/>
<rect x="418.44" y="524.03" width="17.42" height="17.38" fill="#5b1e51"/>
<rect x="434.86" y="524.03" width="17.42" height="17.38" fill="#891e5b"/>
<rect x="451.28" y="524.03" width="17.42" height="17.38" fill="#cb1b4f"/>
<rect x="467.69" y="524.03" width="17.42" height="17.38" fill="#e83f3f"/>
<rect x="484.11" y="524.03" width="17.42" height="17.38" fill="#f4835b"/>
<rect x="500.53" y="524.03" width="17.42" height="17.38" fill="#f6b691"/>
<rect x="516.95" y="524.03" width="17.42" height="17.38" fill="#f6b691"/>
<rect x="533.37" y="524.03" width="17.42" height="17.38" fill="#f6a47c"/>
<rect x="549.79" y="524.03" width="17.42" height="17.38" fill="#ee523f"/>
<rect x="566.21" y="524.03" width="17.42" height="17.38" fill="#d2204c"/>
<rect x="582.62" y="524.03" width="17.42" height="17.38" fill="#811e5a"/>
<rect x="599.04" y="524.03" width="17.42" height="17.38" fill="#531e4d"/>
<rect x="615.46" y="524.03" width="17.42" height="17.38" fill="#34193d"/>
<rect x="631.88" y="524.03" width="17.42" height="17.38" fill="#251433"/>
<rect x="385.60" y="540.41" width="17.42" height="17.38" fill="#1a102a"/>
<rect x="402.02" y="540.41" width="17.42" height="17.38" fill="#221331"/>
<rect x="418.44" y="540.41" width="17.42" height="17.38" fill="#34193d"/>
<rect x="434.86" y="540.41" width="17.42" height="17.38" fill="#531e4d"/>
<rect x="451.28" y="540.41" width="17.42" height="17.38" fill="#711f57"/>
<rect x="467.69" y="540.41" width="17.42" height="17.38" fill="#c21753"/>
<rect x="484.11" y="540.41" width="17.42" height="17.38" fill="#e83f3f"/>
<rect x="500.53" y="540.41" width="17.42" height="17.38" fill="#f47a54"/>
<rect x="516.95" y="540.41" width="17.42" height="17.38" fill="#f3714d"/>
<rect x="533.37" y="540.41" width="17.42" height="17.38" fill="#e83f3f"/>
<rect x="549.79" y="540.41" width="17.42" height="17.38" fill="#cb1b4f"/>
<rect x="566.21" y="540.41" width="17.42" height="17.38" fill="#7a1f59"/>
<rect x="582.62" y="540.41" width="17.42" height="17.38" fill="#531e4d"/>
<rect x="599.04" y="540.41" width="17.42" height="17.38" fill="#34193d"/>
<rect x="615.46" y="540.41" width="17.42" height="17.38" fill="#251433"/>
<rect x="631.88" y="540.41" width="17.42" height="17.38" fill="#1e122d"/>
<rect x="385.60" y="556.79" width="17.42" height="17.38" fill="#130d25"/>
<rect x="402.02" y="556.79" width="17.42" height="17.38" fill="#221331"/>
<rect x="418.44" y="556.79" width="17.42" height="17.38" fill="#2d1738"/>
<rect x="434.86" y="556.79" width="17.42" height="17.38" fill="#451c47"/>
<rect x="451.28" y="556.79" width="17.42" height="17.38" fill="#5b1e51"/>
<rect x="467.69" y="556.79" width="17.42" height="17.38" fill="#891e5b"/>
<rect x="484.11" y="556.79" width="17.42" height="17.38" fill="#cb1b4f"/>
<rect x="500.53" y="556.79" width="17.42" height="17.38" fill="#eb483e"/>
<rect x="516.95" y="556.79" width="17.42" height="17.38" fill="#e33641"/>
<rect x="533.37" y="556.79" width="17.42" height="17.38" fill="#cb1b4f"/>
<rect x="549.79" y="556.79" width="17.42" height="17.38" fill="#891e5b"/>
<rect x="566.21" y="556.79" width="17.42" height="17.38" fill="#631f53"/>
<rect x="582.62" y="556.79" width="17.42" height="17.38" fill="#451c47"/>
<rect x="599.04" y="556.79" width="17.42" height="17.38" fill="#251433"/>
<rect x="615.46" y="556.79" width="17.42" height="17.38" fill="#1e122d"/>
<rect x="631.88" y="556.79" width="17.42" height="17.38" fill="#1a102a"/>
<rect x="385.60" y="573.18" width="17.42" height="17.38" fill="#0d0a21"/>
<rect x="402.02" y="573.18" width="17.42" height="17.38" fill="#130d25"/>
<rect x="418.44" y="573.18" width="17.42" height="17.38" fill="#1e122d"/>
<rect x="434.86" y="573.18" width="17.42" height="17.38" fill="#34193d"/>
<rect x="451.28" y="573.18" width="17.42" height="17.38" fill="#481c48"/>
<rect x="467.69" y="573.18" width="17.42" height="17.38" fill="#5b1e51"/>
<rect x="484.11" y="573.18" width="17.42" height="17.38" fill="#811e5a"/>
<rect x="500.53" y="573.18" width="17.42" height="17.38" fill="#cb1b4f"/>
<rect x="516.95" y="573.18" width="17.42" height="17.38" fill="#c21753"/>
<rect x="533.37" y="573.18" width="17.42" height="17.38" fill="#891e5b"/>
<rect x="549.79" y="573.18" width="17.42" height="17.38" fill="#631f53"/>
<rect x="566.21" y="573.18" width="17.42" height="17.38" fill="#481c48"/>
<rect x="582.62" y="573.18" width="17.42" height="17.38" fill="#34193d"/>
<rect x="599.04" y="573.18" width="17.42" height="17.38" fill="#1e122d"/>
<rect x="615.46" y="573.18" width="17.42" height="17.38" fill="#130d25"/>
<rect x="631.88" y="573.18" width="17.42" height="17.38" fill="#130d25"/>
<rect x="385.60" y="589.56" width="17.42" height="17.38" fill="#08081e"/>
<rect x="402.02" y="589.56" width="17.42" height="17.38" fill="#0d0a21"/>
<rect x="418.44" y="589.56" width="17.42" height="17.38" fill="#130d25"/>
<rect x="434.86" y="589.56" width="17.42" height="17.38" fill="#221331"/>
<rect x="451.28" y="589.56" width="17.42" height="17.38" fill="#2d1738"/>
<rect x="467.69" y="589.56" width="17.42" height="17.38" fill="#3c1a42"/>
<rect x="484.11" y="589.56" width="17.42" height="17.38" fill="#531e4d"/>
<rect x="500.53" y="589.56" width="17.42" height="17.38" fill="#711f57"/>
<rect x="516.95" y="589.56" width="17.42" height="17.38" fill="#711f57"/>
<rect x="533.37" y="589.56" width="17.42" height="17.38" fill="#531e4d"/>
<rect x="549.79" y="589.56" width="17.42" height="17.38" fill="#3c1a42"/>
<rect x="566.21" y="589.56" width="17.42" height="17.38" fill="#34193d"/>
<rect x="582.62" y="589.56" width="17.42" height="17.38" fill="#1e122d"/>
<rect x="599.04" y="589.56" width="17.42" height="17.38" fill="#130d25"/>
<rect x="615.46" y="589.56" width="17.42" height="17.38" fill="#1a102a"/>
<rect x="631.88" y="589.56" width="17.42" height="17.38" fill="#0d0a21"/>
<rect x="385.60" y="605.94" width="17.42" height="17.38" fill="#08081e"/>
<rect x="402.02" y="605.94" width="17.42" height="17.38" fill="#08081e"/>
<rect x="418.44" y="605.94" width="17.42" height="17.38" fill="#0d0a21"/>
<rect x="434.86" y="605.94" width="17.42" height="17.38" fill="#1a102a"/>
<rect x="451.28" y="605.94" width="17.42" height="17.38" fill="#1e122d"/>
<rect x="467.69" y="605.94" width="17.42" height="17.38" fill="#251433"/>
<rect x="484.11" y="605.94" width="17.42" height="17.38" fill="#34193d"/>
<rect x="500.53" y="605.94" width="17.42" height="17.38" fill="#451c47"/>
<rect x="516.95" y="605.94" width="17.42" height="17.38" fill="#34193d"/>
<rect x="533.37" y="605.94" width="17.42" height="17.38" fill="#34193d"/>
<rect x="549.79" y="605.94" width="17.42" height="17.38" fill="#251433"/>
<rect x="566.21" y="605.94" width="17.42" height="17.38" fill="#1e122d"/>
<rect x="582.62" y="605.94" width="17.42" height="17.38" fill="#1a102a"/>
<rect x="599.04" y="605.94" width="17.42" height="17.38" fill="#0d0a21"/>
<rect x="615.46" y="605.94" width="17.42" height="17.38" fill="#08081e"/>
<rect x="631.88" y="605.94" width="17.42" height="17.38" fill="#08081e"/>
<rect x="385.60" y="622.32" width="17.42" height="17.38" fill="#08081e"/>
<rect x="402.02" y="622.32" width="17.42" height="17.38" fill="#08081e"/>
<rect x="418.44" y="622.32" width="17.42" height="17.38" fill="#08081e"/>
<rect x="434.86" y="622.32" width="17.42" height="17.38" fill="#130d25"/>
<rect x="451.28" y="622.32" width="17.42" height="17.38" fill="#130d25"/>
<rect x="467.69" y="622.32" width="17.42" height="17.38" fill="#1a102a"/>
<rect x="484.11" y="622.32" width="17.42" height="17.38" fill="#221331"/>
<rect x="500.53" y="622.32" width="17.42" height="17.38" fill="#251433"/>
<rect x="516.95" y="622.32" width="17.42" height="17.38" fill="#1a102a"/>
<rect x="533.37" y="622.32" width="17.42" height="17.38" fill="#130d25"/>
<rect x="549.79" y="622.32" width="17.42" height="17.38" fill="#130d25"/>
<rect x="566.21" y="622.32" width="17.42" height="17.38" fill="#130d25"/>
<rect x="582.62" y="622.32" width="17.42" height="17.38" fill="#0d0a21"/>
<rect x="599.04" y="622.32" width="17.42" height="17.38" fill="#0d0a21"/>
<rect x="615.46" y="622.32" width="17.42" height="17.38" fill="#08081e"/>
<rect x="631.88" y="622.32" width="17.42" height="17.38" fill="#08081e"/>
</g>
<g stroke="#000" stroke-width="2.70" fill="none"><line x1="386.30" y1="640.60" x2="386.30" y2="653.15"/><line x1="649.00" y1="640.60" x2="661.55" y2="640.60"/><line x1="438.84" y1="640.60" x2="438.84" y2="647.45"/><line x1="649.00" y1="588.18" x2="655.85" y2="588.18"/><line x1="491.38" y1="640.60" x2="491.38" y2="647.45"/><line x1="649.00" y1="535.76" x2="655.85" y2="535.76"/><line x1="543.92" y1="640.60" x2="543.92" y2="647.45"/><line x1="649.00" y1="483.34" x2="655.85" y2="483.34"/><line x1="596.46" y1="640.60" x2="596.46" y2="647.45"/><line x1="649.00" y1="430.92" x2="655.85" y2="430.92"/><line x1="649.00" y1="640.60" x2="649.00" y2="653.15"/><line x1="649.00" y1="378.50" x2="661.55" y2="378.50"/></g>
<rect x="386.30" y="378.50" width="262.70" height="262.10" fill="none" stroke="#000" stroke-width="3.10"/>
<rect x="387.85" y="638.35" width="259.60" height="1.4" fill="#fff" fill-opacity="0.40"/>
<clipPath id="cp5"><rect x="699.65" y="376.95" width="265.80" height="265.20"/></clipPath>
<g clip-path="url(#cp5)">
<rect x="700.50" y="376.60" width="17.42" height="17.38" fill="#08081e"/>
<rect x="716.92" y="376.60" width="17.42" height="17.38" fill="#05061b"/>
<rect x="733.34" y="376.60" width="17.42" height="17.38" fill="#08081e"/>
<rect x="749.76" y="376.60" width="17.42" height="17.38" fill="#100b23"/>
<rect x="766.17" y="376.60" width="17.42" height="17.38" fill="#100b23"/>
<rect x="782.59" y="376.60" width="17.42" height="17.38" fill="#170f28"/>
<rect x="799.01" y="376.60" width="17.42" height="17.38" fill="#1e122d"/>
<rect x="815.43" y="376.60" width="17.42" height="17.38" fill="#2d1738"/>
<rect x="831.85" y="376.60" width="17.42" height="17.38" fill="#1e122d"/>
<rect x="848.27" y="376.60" width="17.42" height="17.38" fill="#1a102a"/>
<rect x="864.69" y="376.60" width="17.42" height="17.38" fill="#170f28"/>
<rect x="881.11" y="376.60" width="17.42" height="17.38" fill="#100b23"/>
<rect x="897.52" y="376.60" width="17.42" height="17.38" fill="#100b23"/>
<rect x="913.94" y="376.60" width="17.42" height="17.38" fill="#0b0920"/>
<rect x="930.36" y="376.60" width="17.42" height="17.38" fill="#08081e"/>
<rect x="946.78" y="376.60" width="17.42" height="17.38" fill="#08081e"/>
<rect x="700.50" y="392.98" width="17.42" height="17.38" fill="#05061b"/>
<rect x="716.92" y="392.98" width="17.42" height="17.38" fill="#08081e"/>
<rect x="733.34" y="392.98" width="17.42" height="17.38" fill="#08081e"/>
<rect x="749.76" y="392.98" width="17.42" height="17.38" fill="#08081e"/>
<rect x="766.17" y="392.98" width="17.42" height="17.38" fill="#130d25"/>
<rect x="782.59" y="392.98" width="17.42" height="17.38" fill="#2a1636"/>
<rect x="799.01" y="392.98" width="17.42" height="17.38" fill="#2d1738"/>
<rect x="815.43" y="392.98" width="17.42" height="17.38" fill="#4c1d4b"/>
<rect x="831.85" y="392.98" width="17.42" height="17.38" fill="#3c1a42"/>
<rect x="848.27" y="392.98" width="17.42" height="17.38" fill="#251433"/>
<rect x="864.69" y="392.98" width="17.42" height="17.38" fill="#1e122d"/>
<rect x="881.11" y="392.98" width="17.42" height="17.38" fill="#170f28"/>
<rect x="897.52" y="392.98" width="17.42" height="17.38" fill="#130d25"/>
<rect x="913.94" y="392.98" width="17.42" height="17.38" fill="#0b0920"/>
<rect x="930.36" y="392.98" width="17.42" height="17.38" fill="#08081e"/>
<rect x="946.78" y="392.98" width="17.42" height="17.38" fill="#05061b"/>
<rect x="700.50" y="409.36" width="17.42" height="17.38" fill="#08081e"/>
<rect x="716.92" y="409.36" width="17.42" height="17.38" fill="#05061b"/>
<rect x="733.34" y="409.36" width="17.42" height="17.38" fill="#100b23"/>
<rect x="749.76" y="409.36" width="17.42" height="17.38" fill="#130d25"/>
<rect x="766.17" y="409.36" width="17.42" height="17.38" fill="#251433"/>
<rect x="782.59" y="409.36" width="17.42" height="17.38" fill="#4c1d4b"/>
<rect x="799.01" y="409.36" width="17.42" height="17.38" fill="#541e4e"/>
<rect x="815.43" y="409.36" width="17.42" height="17.38" fill="#7d1f5a"/>
<rect x="831.85" y="409.36" width="17.42" height="17.38" fill="#751f58"/>
<rect x="848.27" y="409.36" width="17.42" height="17.38" fill="#451c47"/>
<rect x="864.69" y="409.36" width="17.42" height="17.38" fill="#2d1738"/>
<rect x="881.11" y="409.36" width="17.42" height="17.38" fill="#221331"/>
<rect x="897.52" y="409.36" width="17.42" height="17.38" fill="#170f28"/>
<rect x="913.94" y="409.36" width="17.42" height="17.38" fill="#100b23"/>
<rect x="930.36" y="409.36" width="17.42" height="17.38" fill="#0b0920"/>
<rect x="946.78" y="409.36" width="17.42" height="17.38" fill="#08081e"/>
<rect x="700.50" y="425.74" width="17.42" height="17.38" fill="#0b0920"/>
<rect x="716.92" y="425.74" width="17.42" height="17.38" fill="#130d25"/>
<rect x="733.34" y="425.74" width="17.42" height="17.38" fill="#170f28"/>
<rect x="749.76" y="425.74" width="17.42" height="17.38" fill="#251433"/>
<rect x="766.17" y="425.74" width="17.42" height="17.38" fill="#481c48"/>
<rect x="782.59" y="425.74" width="17.42" height="17.38" fill="#5c1e51"/>
<rect x="799.01" y="425.74" width="17.42" height="17.38" fill="#981b5b"/>
<rect x="815.43" y="425.74" width="17.42" height="17.38" fill="#d2204c"/>
<rect x="831.85" y="425.74" width="17.42" height="17.38" fill="#d5224a"/>
<rect x="848.27" y="425.74" width="17.42" height="17.38" fill="#901d5b"/>
<rect x="864.69" y="425.74" width="17.42" height="17.38" fill="#4c1d4b"/>
<rect x="881.11" y="425.74" width="17.42" height="17.38" fill="#34193d"/>
<rect x="897.52" y="425.74" width="17.42" height="17.38" fill="#2a1636"/>
<rect x="913.94" y="425.74" width="17.42" height="17.38" fill="#1a102a"/>
<rect x="930.36" y="425.74" width="17.42" height="17.38" fill="#130d25"/>
<rect x="946.78" y="425.74" width="17.42" height="17.38" fill="#0b0920"/>
<rect x="700.50" y="442.12" width="17.42" height="17.38" fill="#0b0920"/>
<rect x="716.92" y="442.12" width="17.42" height="17.38" fill="#130d25"/>
<rect x="733.34" y="442.12" width="17.42" height="17.38" fill="#251433"/>
<rect x="749.76" y="442.12" width="17.42" height="17.38" fill="#451c47"/>
<rect x="766.17" y="442.12" width="17.42" height="17.38" fill="#6d1f56"/>
<rect x="782.59" y="442.12" width="17.42" height="17.38" fill="#871e5b"/>
<rect x="799.01" y="442.12" width="17.42" height="17.38" fill="#b21758"/>
<rect x="815.43" y="442.12" width="17.42" height="17.38" fill="#de2e44"/>
<rect x="831.85" y="442.12" width="17.42" height="17.38" fill="#d82748"/>
<rect x="848.27" y="442.12" width="17.42" height="17.38" fill="#aa185a"/>
<rect x="864.69" y="442.12" width="17.42" height="17.38" fill="#871e5b"/>
<rect x="881.11" y="442.12" width="17.42" height="17.38" fill="#4c1d4b"/>
<rect x="897.52" y="442.12" width="17.42" height="17.38" fill="#381a40"/>
<rect x="913.94" y="442.12" width="17.42" height="17.38" fill="#2d1738"/>
<rect x="930.36" y="442.12" width="17.42" height="17.38" fill="#1a102a"/>
<rect x="946.78" y="442.12" width="17.42" height="17.38" fill="#100b23"/>
<rect x="700.50" y="458.51" width="17.42" height="17.38" fill="#130d25"/>
<rect x="716.92" y="458.51" width="17.42" height="17.38" fill="#1a102a"/>
<rect x="733.34" y="458.51" width="17.42" height="17.38" fill="#3c1a42"/>
<rect x="749.76" y="458.51" width="17.42" height="17.38" fill="#541e4e"/>
<rect x="766.17" y="458.51" width="17.42" height="17.38" fill="#901d5b"/>
<rect x="782.59" y="458.51" width="17.42" height="17.38" fill="#ba1656"/>
<rect x="799.01" y="458.51" width="17.42" height="17.38" fill="#d2204c"/>
<rect x="815.43" y="458.51" width="17.42" height="17.38" fill="#f4835b"/>
<rect x="831.85" y="458.51" width="17.42" height="17.38" fill="#f05c42"/>
<rect x="848.27" y="458.51" width="17.42" height="17.38" fill="#de2e44"/>
<rect x="864.69" y="458.51" width="17.42" height="17.38" fill="#ba1656"/>
<rect x="881.11" y="458.51" width="17.42" height="17.38" fill="#751f58"/>
<rect x="897.52" y="458.51" width="17.42" height="17.38" fill="#5c1e51"/>
<rect x="913.94" y="458.51" width="17.42" height="17.38" fill="#34193d"/>
<rect x="930.36" y="458.51" width="17.42" height="17.38" fill="#251433"/>
<rect x="946.78" y="458.51" width="17.42" height="17.38" fill="#1e122d"/>
<rect x="700.50" y="474.89" width="17.42" height="17.38" fill="#1e122d"/>
<rect x="716.92" y="474.89" width="17.42" height="17.38" fill="#31183b"/>
<rect x="733.34" y="474.89" width="17.42" height="17.38" fill="#5c1e51"/>
<rect x="749.76" y="474.89" width="17.42" height="17.38" fill="#901d5b"/>
<rect x="766.17" y="474.89" width="17.42" height="17.38" fill="#ba1656"/>
<rect x="782.59" y="474.89" width="17.42" height="17.38" fill="#e33641"/>
<rect x="799.01" y="474.89" width="17.42" height="17.38" fill="#ee523f"/>
<rect x="815.43" y="474.89" width="17.42" height="17.38" fill="#f6a47c"/>
<rect x="831.85" y="474.89" width="17.42" height="17.38" fill="#f5946b"/>
<rect x="848.27" y="474.89" width="17.42" height="17.38" fill="#f26747"/>
<rect x="864.69" y="474.89" width="17.42" height="17.38" fill="#d82748"/>
<rect x="881.11" y="474.89" width="17.42" height="17.38" fill="#b21758"/>
<rect x="897.52" y="474.89" width="17.42" height="17.38" fill="#751f58"/>
<rect x="913.94" y="474.89" width="17.42" height="17.38" fill="#481c48"/>
<rect x="930.36" y="474.89" width="17.42" height="17.38" fill="#2d1738"/>
<rect x="946.78" y="474.89" width="17.42" height="17.38" fill="#221331"/>
<rect x="700.50" y="491.27" width="17.42" height="17.38" fill="#1e122d"/>
<rect x="716.92" y="491.27" width="17.42" height="17.38" fill="#451c47"/>
<rect x="733.34" y="491.27" width="17.42" height="17.38" fill="#611f53"/>
<rect x="749.76" y="491.27" width="17.42" height="17.38" fill="#901d5b"/>
<rect x="766.17" y="491.27" width="17.42" height="17.38" fill="#d82748"/>
<rect x="782.59" y="491.27" width="17.42" height="17.38" fill="#ee523f"/>
<rect x="799.01" y="491.27" width="17.42" height="17.38" fill="#f3714d"/>
<rect x="815.43" y="491.27" width="17.42" height="17.38" fill="#f8d9c3"/>
<rect x="831.85" y="491.27" width="17.42" height="17.38" fill="#f8d1b8"/>
<rect x="848.27" y="491.27" width="17.42" height="17.38" fill="#f58b63"/>
<rect x="864.69" y="491.27" width="17.42" height="17.38" fill="#f05c42"/>
<rect x="881.11" y="491.27" width="17.42" height="17.38" fill="#d82748"/>
<rect x="897.52" y="491.27" width="17.42" height="17.38" fill="#981b5b"/>
<rect x="913.94" y="491.27" width="17.42" height="17.38" fill="#6d1f56"/>
<rect x="930.36" y="491.27" width="17.42" height="17.38" fill="#451c47"/>
<rect x="946.78" y="491.27" width="17.42" height="17.38" fill="#251433"/>
<rect x="700.50" y="507.65" width="17.42" height="17.38" fill="#251433"/>
<rect x="716.92" y="507.65" width="17.42" height="17.38" fill="#2d1738"/>
<rect x="733.34" y="507.65" width="17.42" height="17.38" fill="#611f53"/>
<rect x="749.76" y="507.65" width="17.42" height="17.38" fill="#871e5b"/>
<rect x="766.17" y="507.65" width="17.42" height="17.38" fill="#cb1b4f"/>
<rect x="782.59" y="507.65" width="17.42" height="17.38" fill="#f26747"/>
<rect x="799.01" y="507.65" width="17.42" height="17.38" fill="#f5946b"/>
<rect x="815.43" y="507.65" width="17.42" height="17.38" fill="#f7c6a6"/>
<rect x="831.85" y="507.65" width="17.42" height="17.38" fill="#faebdd"/>
<rect x="848.27" y="507.65" width="17.42" height="17.38" fill="#f69c73"/>
<rect x="864.69" y="507.65" width="17.42" height="17.38" fill="#f3714d"/>
<rect x="881.11" y="507.65" width="17.42" height="17.38" fill="#de2e44"/>
<rect x="897.52" y="507.65" width="17.42" height="17.38" fill="#981b5b"/>
<rect x="913.94" y="507.65" width="17.42" height="17.38" fill="#5c1e51"/>
<rect x="930.36" y="507.65" width="17.42" height="17.38" fill="#3c1a42"/>
<rect x="946.78" y="507.65" width="17.42" height="17.38" fill="#1e122d"/>
<rect x="700.50" y="524.03" width="17.42" height="17.38" fill="#1e122d"/>
<rect x="716.92" y="524.03" width="17.42" height="17.38" fill="#2d1738"/>
<rect x="733.34" y="524.03" width="17.42" height="17.38" fill="#451c47"/>
<rect x="749.76" y="524.03" width="17.42" height="17.38" fill="#641f54"/>
<rect x="766.17" y="524.03" width="17.42" height="17.38" fill="#ba1656"/>
<rect x="782.59" y="524.03" width="17.42" height="17.38" fill="#e33641"/>
<rect x="799.01" y="524.03" width="17.42" height="17.38" fill="#f3714d"/>
<rect x="815.43" y="524.03" width="17.42" height="17.38" fill="#f6ae87"/>
<rect x="831.85" y="524.03" width="17.42" height="17.38" fill="#f6be9b"/>
<rect x="848.27" y="524.03" width="17.42" height="17.38" fill="#f69c73"/>
<rect x="864.69" y="524.03" width="17.42" height="17.38" fill="#eb483e"/>
<rect x="881.11" y="524.03" width="17.42" height="17.38" fill="#ba1656"/>
<rect x="897.52" y="524.03" width="17.42" height="17.38" fill="#751f58"/>
<rect x="913.94" y="524.03" width="17.42" height="17.38" fill="#451c47"/>
<rect x="930.36" y="524.03" width="17.42" height="17.38" fill="#2d1738"/>
<rect x="946.78" y="524.03" width="17.42" height="17.38" fill="#1e122d"/>
<rect x="700.50" y="540.41" width="17.42" height="17.38" fill="#130d25"/>
<rect x="716.92" y="540.41" width="17.42" height="17.38" fill="#170f28"/>
<rect x="733.34" y="540.41" width="17.42" height="17.38" fill="#251433"/>
<rect x="749.76" y="540.41" width="17.42" height="17.38" fill="#451c47"/>
<rect x="766.17" y="540.41" width="17.42" height="17.38" fill="#751f58"/>
<rect x="782.59" y="540.41" width="17.42" height="17.38" fill="#b71657"/>
<rect x="799.01" y="540.41" width="17.42" height="17.38" fill="#e33641"/>
<rect x="815.43" y="540.41" width="17.42" height="17.38" fill="#f3714d"/>
<rect x="831.85" y="540.41" width="17.42" height="17.38" fill="#f26747"/>
<rect x="848.27" y="540.41" width="17.42" height="17.38" fill="#e33641"/>
<rect x="864.69" y="540.41" width="17.42" height="17.38" fill="#ba1656"/>
<rect x="881.11" y="540.41" width="17.42" height="17.38" fill="#6d1f56"/>
<rect x="897.52" y="540.41" width="17.42" height="17.38" fill="#401b44"/>
<rect x="913.94" y="540.41" width="17.42" height="17.38" fill="#2d1738"/>
<rect x="930.36" y="540.41" width="17.42" height="17.38" fill="#1a102a"/>
<rect x="946.78" y="540.41" width="17.42" height="17.38" fill="#130d25"/>
<rect x="700.50" y="556.79" width="17.42" height="17.38" fill="#0b0920"/>
<rect x="716.92" y="556.79" width="17.42" height="17.38" fill="#130d25"/>
<rect x="733.34" y="556.79" width="17.42" height="17.38" fill="#1e122d"/>
<rect x="749.76" y="556.79" width="17.42" height="17.38" fill="#31183b"/>
<rect x="766.17" y="556.79" width="17.42" height="17.38" fill="#541e4e"/>
<rect x="782.59" y="556.79" width="17.42" height="17.38" fill="#7d1f5a"/>
<rect x="799.01" y="556.79" width="17.42" height="17.38" fill="#c21753"/>
<rect x="815.43" y="556.79" width="17.42" height="17.38" fill="#eb483e"/>
<rect x="831.85" y="556.79" width="17.42" height="17.38" fill="#e33641"/>
<rect x="848.27" y="556.79" width="17.42" height="17.38" fill="#c21753"/>
<rect x="864.69" y="556.79" width="17.42" height="17.38" fill="#901d5b"/>
<rect x="881.11" y="556.79" width="17.42" height="17.38" fill="#5c1e51"/>
<rect x="897.52" y="556.79" width="17.42" height="17.38" fill="#31183b"/>
<rect x="913.94" y="556.79" width="17.42" height="17.38" fill="#1a102a"/>
<rect x="930.36" y="556.79" width="17.42" height="17.38" fill="#100b23"/>
<rect x="946.78" y="556.79" width="17.42" height="17.38" fill="#100b23"/>
<rect x="700.50" y="573.18" width="17.42" height="17.38" fill="#0b0920"/>
<rect x="716.92" y="573.18" width="17.42" height="17.38" fill="#0b0920"/>
<rect x="733.34" y="573.18" width="17.42" height="17.38" fill="#170f28"/>
<rect x="749.76" y="573.18" width="17.42" height="17.38" fill="#1e122d"/>
<rect x="766.17" y="573.18" width="17.42" height="17.38" fill="#31183b"/>
<rect x="782.59" y="573.18" width="17.42" height="17.38" fill="#4c1d4b"/>
<rect x="799.01" y="573.18" width="17.42" height="17.38" fill="#751f58"/>
<rect x="815.43" y="573.18" width="17.42" height="17.38" fill="#b21758"/>
<rect x="831.85" y="573.18" width="17.42" height="17.38" fill="#ba1656"/>
<rect x="848.27" y="573.18" width="17.42" height="17.38" fill="#7d1f5a"/>
<rect x="864.69" y="573.18" width="17.42" height="17.38" fill="#541e4e"/>
<rect x="881.11" y="573.18" width="17.42" height="17.38" fill="#34193d"/>
<rect x="897.52" y="573.18" width="17.42" height="17.38" fill="#251433"/>
<rect x="913.94" y="573.18" width="17.42" height="17.38" fill="#130d25"/>
<rect x="930.36" y="573.18" width="17.42" height="17.38" fill="#08081e"/>
<rect x="946.78" y="573.18" width="17.42" height="17.38" fill="#08081e"/>
<rect x="700.50" y="589.56" width="17.42" height="17.38" fill="#08081e"/>
<rect x="716.92" y="589.56" width="17.42" height="17.38" fill="#08081e"/>
<rect x="733.34" y="589.56" width="17.42" height="17.38" fill="#08081e"/>
<rect x="749.76" y="589.56" width="17.42" height="17.38" fill="#130d25"/>
<rect x="766.17" y="589.56" width="17.42" height="17.38" fill="#1e122d"/>
<rect x="782.59" y="589.56" width="17.42" height="17.38" fill="#34193d"/>
<rect x="799.01" y="589.56" width="17.42" height="17.38" fill="#541e4e"/>
<rect x="815.43" y="589.56" width="17.42" height="17.38" fill="#641f54"/>
<rect x="831.85" y="589.56" width="17.42" height="17.38" fill="#641f54"/>
<rect x="848.27" y="589.56" width="17.42" height="17.38" fill="#401b44"/>
<rect x="864.69" y="589.56" width="17.42" height="17.38" fill="#2d1738"/>
<rect x="881.11" y="589.56" width="17.42" height="17.38" fill="#1e122d"/>
<rect x="897.52" y="589.56" width="17.42" height="17.38" fill="#170f28"/>
<rect x="913.94" y="589.56" width="17.42" height="17.38" fill="#08081e"/>
<rect x="930.36" y="589.56" width="17.42" height="17.38" fill="#08081e"/>
<rect x="946.78" y="589.56" width="17.42" height="17.38" fill="#05061b"/>
<rect x="700.50" y="605.94" width="17.42" height="17.38" fill="#05061b"/>
<rect x="716.92" y="605.94" width="17.42" height="17.38" fill="#08081e"/>
<rect x="733.34" y="605.94" width="17.42" height="17.38" fill="#08081e"/>
<rect x="749.76" y="605.94" width="17.42" height="17.38" fill="#0b0920"/>
<rect x="766.17" y="605.94" width="17.42" height="17.38" fill="#130d25"/>
<rect x="782.59" y="605.94" width="17.42" height="17.38" fill="#1e122d"/>
<rect x="799.01" y="605.94" width="17.42" height="17.38" fill="#2d1738"/>
<rect x="815.43" y="605.94" width="17.42" height="17.38" fill="#34193d"/>
<rect x="831.85" y="605.94" width="17.42" height="17.38" fill="#34193d"/>
<rect x="848.27" y="605.94" width="17.42" height="17.38" fill="#2d1738"/>
<rect x="864.69" y="605.94" width="17.42" height="17.38" fill="#1a102a"/>
<rect x="881.11" y="605.94" width="17.42" height="17.38" fill="#0b0920"/>
<rect x="897.52" y="605.94" width="17.42" height="17.38" fill="#0b0920"/>
<rect x="913.94" y="605.94" width="17.42" height="17.38" fill="#05061b"/>
<rect x="930.36" y="605.94" width="17.42" height="17.38" fill="#05061b"/>
<rect x="946.78" y="605.94" width="17.42" height="17.38" fill="#05061b"/>
<rect x="700.50" y="622.32" width="17.42" height="17.38" fill="#05061b"/>
<rect x="716.92" y="622.32" width="17.42" height="17.38" fill="#05061b"/>
<rect x="733.34" y="622.32" width="17.42" height="17.38" fill="#08081e"/>
<rect x="749.76" y="622.32" width="17.42" height="17.38" fill="#08081e"/>
<rect x="766.17" y="622.32" width="17.42" height="17.38" fill="#100b23"/>
<rect x="782.59" y="622.32" width="17.42" height="17.38" fill="#0b0920"/>
<rect x="799.01" y="622.32" width="17.42" height="17.38" fill="#170f28"/>
<rect x="815.43" y="622.32" width="17.42" height="17.38" fill="#1e122d"/>
<rect x="831.85" y="622.32" width="17.42" height="17.38" fill="#1e122d"/>
<rect x="848.27" y="622.32" width="17.42" height="17.38" fill="#130d25"/>
<rect x="864.69" y="622.32" width="17.42" height="17.38" fill="#130d25"/>
<rect x="881.11" y="622.32" width="17.42" height="17.38" fill="#08081e"/>
<rect x="897.52" y="622.32" width="17.42" height="17.38" fill="#0b0920"/>
<rect x="913.94" y="622.32" width="17.42" height="17.38" fill="#05061b"/>
<rect x="930.36" y="622.32" width="17.42" height="17.38" fill="#05061b"/>
<rect x="946.78" y="622.32" width="17.42" height="17.38" fill="#05061b"/>
</g>
<g stroke="#000" stroke-width="2.70" fill="none"><line x1="701.20" y1="640.60" x2="701.20" y2="653.15"/><line x1="963.90" y1="640.60" x2="976.45" y2="640.60"/><line x1="753.74" y1="640.60" x2="753.74" y2="647.45"/><line x1="963.90" y1="588.18" x2="970.75" y2="588.18"/><line x1="806.28" y1="640.60" x2="806.28" y2="647.45"/><line x1="963.90" y1="535.76" x2="970.75" y2="535.76"/><line x1="858.82" y1="640.60" x2="858.82" y2="647.45"/><line x1="963.90" y1="483.34" x2="970.75" y2="483.34"/><line x1="911.36" y1="640.60" x2="911.36" y2="647.45"/><line x1="963.90" y1="430.92" x2="970.75" y2="430.92"/><line x1="963.90" y1="640.60" x2="963.90" y2="653.15"/><line x1="963.90" y1="378.50" x2="976.45" y2="378.50"/></g>
<rect x="701.20" y="378.50" width="262.70" height="262.10" fill="none" stroke="#000" stroke-width="3.10"/>
<rect x="702.75" y="638.35" width="259.60" height="1.4" fill="#fff" fill-opacity="0.40"/>
<text><tspan x="115.00" y="26.60" textLength="91.50" lengthAdjust="spacingAndGlyphs">initial</tspan> <tspan x="216.50" y="26.60" textLength="74.50" lengthAdjust="spacingAndGlyphs">state</tspan></text>
<text><tspan x="388.50" y="26.60" textLength="158.00" lengthAdjust="spacingAndGlyphs">maximum</tspan> <tspan x="556.50" y="26.60" textLength="90.00" lengthAdjust="spacingAndGlyphs">strain</tspan></text>
<text><tspan x="775.50" y="26.60" textLength="114.00" lengthAdjust="spacingAndGlyphs">relaxed</tspan></text>
<text><tspan x="142.50" y="721.00" textLength="19.00" lengthAdjust="spacingAndGlyphs"><tspan class="i">x</tspan></tspan> <tspan x="173.00" y="721.00" textLength="31.00" lengthAdjust="spacingAndGlyphs">in</tspan> <tspan x="215.50" y="721.00" textLength="48.50" lengthAdjust="spacingAndGlyphs">µm</tspan></text>
<text><tspan x="456.50" y="721.00" textLength="20.00" lengthAdjust="spacingAndGlyphs"><tspan class="i">x</tspan></tspan> <tspan x="488.00" y="721.00" textLength="30.00" lengthAdjust="spacingAndGlyphs">in</tspan> <tspan x="530.50" y="721.00" textLength="48.50" lengthAdjust="spacingAndGlyphs">µm</tspan></text>
<text><tspan x="772.00" y="721.00" textLength="19.00" lengthAdjust="spacingAndGlyphs"><tspan class="i">x</tspan></tspan> <tspan x="802.50" y="721.00" textLength="31.00" lengthAdjust="spacingAndGlyphs">in</tspan> <tspan x="845.00" y="721.00" textLength="49.50" lengthAdjust="spacingAndGlyphs">µm</tspan></text>
<text transform="rotate(-90)"><tspan x="-253.50" y="1033.60" textLength="16.50" lengthAdjust="spacingAndGlyphs"><tspan class="i">z</tspan></tspan> <tspan x="-229.00" y="1033.60" textLength="30.00" lengthAdjust="spacingAndGlyphs">in</tspan> <tspan x="-183.00" y="1033.60" textLength="49.00" lengthAdjust="spacingAndGlyphs">µm</tspan></text>
<text transform="rotate(-90)"><tspan x="-569.00" y="1033.60" textLength="16.50" lengthAdjust="spacingAndGlyphs"><tspan class="i">z</tspan></tspan> <tspan x="-544.50" y="1033.60" textLength="30.00" lengthAdjust="spacingAndGlyphs">in</tspan> <tspan x="-498.50" y="1033.60" textLength="49.00" lengthAdjust="spacingAndGlyphs">µm</tspan></text>
<text transform="rotate(-90)"><tspan x="-308.50" y="27.90" textLength="70.00" lengthAdjust="spacingAndGlyphs">with</tspan> <tspan x="-227.00" y="27.90" textLength="149.50" lengthAdjust="spacingAndGlyphs">cross-slip</tspan></text>
<text transform="rotate(-90)"><tspan x="-650.50" y="27.90" textLength="123.00" lengthAdjust="spacingAndGlyphs">without</tspan> <tspan x="-516.00" y="27.90" textLength="149.00" lengthAdjust="spacingAndGlyphs">cross-slip</tspan></text>
<text transform="rotate(-90)"><tspan x="-480.00" y="1245.60" textLength="175.00" lengthAdjust="spacingAndGlyphs">normalized</tspan> <tspan x="-293.50" y="1245.60" textLength="70.50" lengthAdjust="spacingAndGlyphs">total</tspan></text>
<text transform="rotate(-90)"><tspan x="-555.00" y="1290.80" textLength="170.00" lengthAdjust="spacingAndGlyphs">dislocation</tspan> <tspan x="-373.50" y="1290.80" textLength="114.50" lengthAdjust="spacingAndGlyphs">density</tspan> <tspan x="-249.50" y="1290.80" textLength="30.50" lengthAdjust="spacingAndGlyphs">in</tspan> <tspan x="-208.00" y="1290.80" textLength="59.50" lengthAdjust="spacingAndGlyphs">m<tspan dy="-13.8" font-size="25.6">−2</tspan></tspan></text>
<text><tspan x="63.00" y="693.00" textLength="17.00" lengthAdjust="spacingAndGlyphs">0</tspan></text>
<text><tspan x="325.00" y="693.00" textLength="17.00" lengthAdjust="spacingAndGlyphs">5</tspan></text>
<text><tspan x="378.00" y="693.00" textLength="17.00" lengthAdjust="spacingAndGlyphs">0</tspan></text>
<text><tspan x="640.00" y="693.00" textLength="17.00" lengthAdjust="spacingAndGlyphs">5</tspan></text>
<text><tspan x="692.50" y="693.00" textLength="17.00" lengthAdjust="spacingAndGlyphs">0</tspan></text>
<text><tspan x="955.00" y="693.00" textLength="17.00" lengthAdjust="spacingAndGlyphs">5</tspan></text>
<text><tspan x="989.00" y="76.90" textLength="17.00" lengthAdjust="spacingAndGlyphs">5</tspan></text>
<text><tspan x="988.50" y="338.70" textLength="17.50" lengthAdjust="spacingAndGlyphs">0</tspan></text>
<text><tspan x="989.00" y="392.80" textLength="17.00" lengthAdjust="spacingAndGlyphs">5</tspan></text>
<text><tspan x="988.50" y="654.20" textLength="17.50" lengthAdjust="spacingAndGlyphs">0</tspan></text>
<text><tspan x="1136.00" y="523.30" textLength="68.50" lengthAdjust="spacingAndGlyphs">0.00</tspan></text>
<text><tspan x="1136.00" y="444.32" textLength="68.50" lengthAdjust="spacingAndGlyphs">0.25</tspan></text>
<text><tspan x="1136.00" y="365.35" textLength="68.50" lengthAdjust="spacingAndGlyphs">0.50</tspan></text>
<text><tspan x="1136.00" y="286.38" textLength="68.50" lengthAdjust="spacingAndGlyphs">0.75</tspan></text>
<text><tspan x="1136.00" y="207.40" textLength="67.50" lengthAdjust="spacingAndGlyphs">1.00</tspan></text>
<defs><linearGradient id="cb" x1="0" y1="1" x2="0" y2="0">
<stop offset="0.000" stop-color="#03051a"/>
<stop offset="0.025" stop-color="#0a091f"/>
<stop offset="0.050" stop-color="#130d25"/>
<stop offset="0.075" stop-color="#1d112c"/>
<stop offset="0.100" stop-color="#251433"/>
<stop offset="0.125" stop-color="#30173a"/>
<stop offset="0.150" stop-color="#381a40"/>
<stop offset="0.175" stop-color="#421b45"/>
<stop offset="0.200" stop-color="#4c1d4b"/>
<stop offset="0.225" stop-color="#561e4f"/>
<stop offset="0.250" stop-color="#611f53"/>
<stop offset="0.275" stop-color="#6b1f56"/>
<stop offset="0.300" stop-color="#751f58"/>
<stop offset="0.325" stop-color="#811e5a"/>
<stop offset="0.350" stop-color="#8b1d5b"/>
<stop offset="0.375" stop-color="#971c5b"/>
<stop offset="0.400" stop-color="#a11a5b"/>
<stop offset="0.425" stop-color="#ab185a"/>
<stop offset="0.450" stop-color="#b71657"/>
<stop offset="0.475" stop-color="#c11754"/>
<stop offset="0.500" stop-color="#cb1b4f"/>
<stop offset="0.525" stop-color="#d3214b"/>
<stop offset="0.550" stop-color="#db2946"/>
<stop offset="0.575" stop-color="#e23442"/>
<stop offset="0.600" stop-color="#e83f3f"/>
<stop offset="0.625" stop-color="#ec4c3e"/>
<stop offset="0.650" stop-color="#ef5840"/>
<stop offset="0.675" stop-color="#f16445"/>
<stop offset="0.700" stop-color="#f3714d"/>
<stop offset="0.725" stop-color="#f47c55"/>
<stop offset="0.750" stop-color="#f58860"/>
<stop offset="0.775" stop-color="#f59269"/>
<stop offset="0.800" stop-color="#f69c73"/>
<stop offset="0.825" stop-color="#f6a880"/>
<stop offset="0.850" stop-color="#f6b18b"/>
<stop offset="0.875" stop-color="#f6bc99"/>
<stop offset="0.900" stop-color="#f7c6a6"/>
<stop offset="0.925" stop-color="#f7cfb3"/>
<stop offset="0.950" stop-color="#f8d9c3"/>
<stop offset="0.975" stop-color="#f9e2d0"/>
<stop offset="1.000" stop-color="#faebdd"/>
</linearGradient></defs>
<rect x="1090.60" y="193.60" width="20.90" height="315.90" fill="url(#cb)"/>
<g stroke="#000" stroke-width="3.00"><line x1="1111.50" y1="509.50" x2="1124.05" y2="509.50"/><line x1="1111.50" y1="430.52" x2="1124.05" y2="430.52"/><line x1="1111.50" y1="351.55" x2="1124.05" y2="351.55"/><line x1="1111.50" y1="272.58" x2="1124.05" y2="272.58"/><line x1="1111.50" y1="193.60" x2="1124.05" y2="193.60"/></g>
<rect x="1090.60" y="193.60" width="20.90" height="315.90" fill="none" stroke="#000" stroke-width="3.10"/>
</svg></body></html>
